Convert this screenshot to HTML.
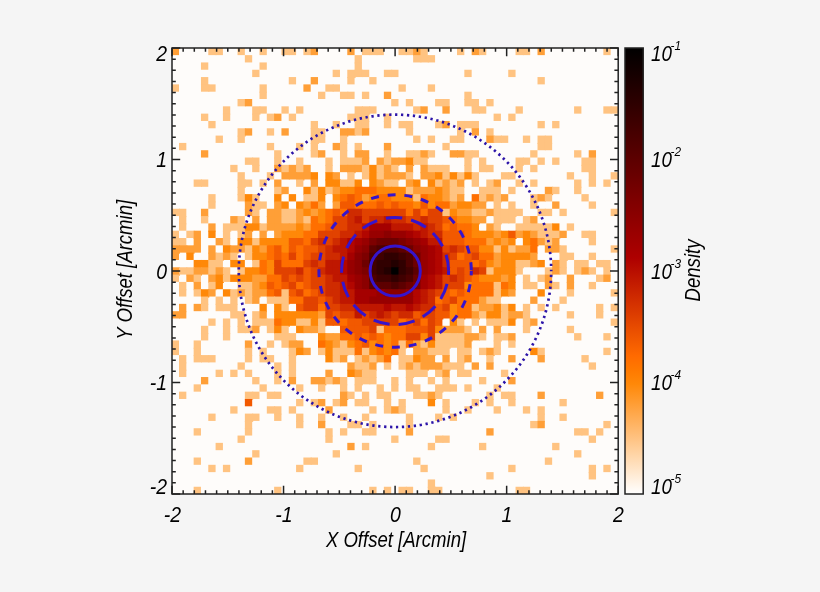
<!DOCTYPE html>
<html><head><meta charset="utf-8"><style>
html,body{margin:0;padding:0;background:#f5f5f5;}
svg{display:block}
text{font-family:"Liberation Sans",Arial,sans-serif;font-style:italic;fill:#000}
</style></head><body>
<svg width="820" height="592" viewBox="0 0 820 592">
<defs><clipPath id="pc"><rect x="172.0" y="48.0" width="446.20000000000005" height="446.0"/></clipPath><linearGradient id="cb" x1="0" y1="0" x2="0" y2="1"><stop offset="0.0000" stop-color="#000000"/><stop offset="0.0314" stop-color="#0c0000"/><stop offset="0.0627" stop-color="#170000"/><stop offset="0.0941" stop-color="#230000"/><stop offset="0.1255" stop-color="#2e0000"/><stop offset="0.1569" stop-color="#3a0000"/><stop offset="0.1882" stop-color="#460000"/><stop offset="0.2196" stop-color="#510000"/><stop offset="0.2510" stop-color="#5d0000"/><stop offset="0.2824" stop-color="#680000"/><stop offset="0.3137" stop-color="#740000"/><stop offset="0.3451" stop-color="#800000"/><stop offset="0.3765" stop-color="#8b0000"/><stop offset="0.4078" stop-color="#970000"/><stop offset="0.4392" stop-color="#a20000"/><stop offset="0.4706" stop-color="#ae0000"/><stop offset="0.5020" stop-color="#b90f00"/><stop offset="0.5333" stop-color="#c51e00"/><stop offset="0.5647" stop-color="#d12d00"/><stop offset="0.5961" stop-color="#dc3c00"/><stop offset="0.6275" stop-color="#e84c00"/><stop offset="0.6588" stop-color="#f35b00"/><stop offset="0.6902" stop-color="#ff6a00"/><stop offset="0.7216" stop-color="#ff7900"/><stop offset="0.7529" stop-color="#ff8808"/><stop offset="0.7843" stop-color="#ff9727"/><stop offset="0.8157" stop-color="#ffa647"/><stop offset="0.8471" stop-color="#ffb566"/><stop offset="0.8784" stop-color="#ffc485"/><stop offset="0.9098" stop-color="#ffd4a5"/><stop offset="0.9412" stop-color="#ffe3c4"/><stop offset="0.9725" stop-color="#fff2e4"/><stop offset="1.0000" stop-color="#ffffff"/></linearGradient></defs>
<rect x="172.0" y="48.0" width="446.20000000000005" height="446.0" fill="#fefcfa"/>
<g clip-path="url(#pc)"><g style="filter:blur(0.35px)"><rect x="171.70" y="47.80" width="7.32" height="7.32" fill="#ff9f37"/><rect x="208.28" y="47.80" width="8.32" height="7.32" fill="#ffc381"/><rect x="215.60" y="47.80" width="7.32" height="7.32" fill="#ffc381"/><rect x="237.54" y="47.80" width="7.32" height="7.32" fill="#ffc381"/><rect x="259.49" y="47.80" width="7.32" height="7.32" fill="#ffc381"/><rect x="281.44" y="47.80" width="8.32" height="7.32" fill="#ffc381"/><rect x="288.76" y="47.80" width="7.32" height="7.32" fill="#ffc381"/><rect x="303.39" y="47.80" width="8.32" height="7.32" fill="#ffc381"/><rect x="310.70" y="47.80" width="7.32" height="7.32" fill="#ff9f37"/><rect x="347.28" y="47.80" width="7.32" height="7.32" fill="#ff9f37"/><rect x="361.92" y="47.80" width="8.32" height="7.32" fill="#ffc381"/><rect x="369.23" y="47.80" width="8.32" height="7.32" fill="#ffc381"/><rect x="376.55" y="47.80" width="7.32" height="7.32" fill="#ffc381"/><rect x="398.50" y="47.80" width="8.32" height="7.32" fill="#ffc381"/><rect x="405.81" y="47.80" width="8.32" height="7.32" fill="#ffc381"/><rect x="413.13" y="47.80" width="8.32" height="8.32" fill="#ff9f37"/><rect x="420.44" y="47.80" width="7.32" height="8.32" fill="#ffc381"/><rect x="457.02" y="47.80" width="7.32" height="7.32" fill="#ffc381"/><rect x="471.66" y="47.80" width="8.32" height="7.32" fill="#ff9f37"/><rect x="478.97" y="47.80" width="7.32" height="7.32" fill="#ffc381"/><rect x="515.55" y="47.80" width="8.32" height="7.32" fill="#ffc381"/><rect x="522.87" y="47.80" width="7.32" height="7.32" fill="#ffc381"/><rect x="537.50" y="47.80" width="7.32" height="7.32" fill="#ff9f37"/><rect x="603.34" y="47.80" width="7.32" height="7.32" fill="#ffc381"/><rect x="244.86" y="55.12" width="7.32" height="7.32" fill="#ffc381"/><rect x="354.60" y="55.12" width="7.32" height="8.32" fill="#ffc381"/><rect x="413.13" y="55.12" width="8.32" height="7.32" fill="#ffc381"/><rect x="420.44" y="55.12" width="8.32" height="7.32" fill="#ffc381"/><rect x="427.76" y="55.12" width="7.32" height="7.32" fill="#ffc381"/><rect x="200.96" y="62.43" width="7.32" height="7.32" fill="#ffc381"/><rect x="259.49" y="62.43" width="7.32" height="7.32" fill="#ffc381"/><rect x="354.60" y="62.43" width="7.32" height="8.32" fill="#ffc381"/><rect x="252.18" y="69.75" width="7.32" height="7.32" fill="#ffc381"/><rect x="332.65" y="69.75" width="7.32" height="7.32" fill="#ffc381"/><rect x="347.28" y="69.75" width="8.32" height="8.32" fill="#ffc381"/><rect x="354.60" y="69.75" width="8.32" height="7.32" fill="#ffc381"/><rect x="361.92" y="69.75" width="7.32" height="7.32" fill="#ffc381"/><rect x="383.86" y="69.75" width="8.32" height="7.32" fill="#ffc381"/><rect x="391.18" y="69.75" width="7.32" height="7.32" fill="#ffc381"/><rect x="464.34" y="69.75" width="7.32" height="7.32" fill="#ffc381"/><rect x="508.24" y="69.75" width="7.32" height="7.32" fill="#ffc381"/><rect x="200.96" y="77.06" width="7.32" height="8.32" fill="#ffc381"/><rect x="288.76" y="77.06" width="7.32" height="7.32" fill="#ffc381"/><rect x="310.70" y="77.06" width="7.32" height="7.32" fill="#ff9f37"/><rect x="347.28" y="77.06" width="7.32" height="7.32" fill="#ffc381"/><rect x="369.23" y="77.06" width="7.32" height="7.32" fill="#ffc381"/><rect x="537.50" y="77.06" width="7.32" height="7.32" fill="#ffc381"/><rect x="171.70" y="84.38" width="7.32" height="7.32" fill="#ffc381"/><rect x="200.96" y="84.38" width="8.32" height="7.32" fill="#ffc381"/><rect x="208.28" y="84.38" width="7.32" height="7.32" fill="#ffc381"/><rect x="259.49" y="84.38" width="7.32" height="8.32" fill="#ffc381"/><rect x="303.39" y="84.38" width="7.32" height="7.32" fill="#ff9f37"/><rect x="325.34" y="84.38" width="8.32" height="7.32" fill="#ffc381"/><rect x="332.65" y="84.38" width="7.32" height="7.32" fill="#ffc381"/><rect x="398.50" y="84.38" width="7.32" height="7.32" fill="#ffc381"/><rect x="427.76" y="84.38" width="7.32" height="7.32" fill="#ffc381"/><rect x="259.49" y="91.70" width="7.32" height="7.32" fill="#ffc381"/><rect x="318.02" y="91.70" width="7.32" height="7.32" fill="#ffc381"/><rect x="339.97" y="91.70" width="8.32" height="7.32" fill="#ffc381"/><rect x="347.28" y="91.70" width="7.32" height="7.32" fill="#ffc381"/><rect x="361.92" y="91.70" width="7.32" height="7.32" fill="#ffc381"/><rect x="383.86" y="91.70" width="7.32" height="7.32" fill="#ff9f37"/><rect x="464.34" y="91.70" width="7.32" height="8.32" fill="#ffc381"/><rect x="237.54" y="99.01" width="8.32" height="7.32" fill="#ffc381"/><rect x="244.86" y="99.01" width="7.32" height="7.32" fill="#ff9f37"/><rect x="391.18" y="99.01" width="7.32" height="7.32" fill="#ffc381"/><rect x="405.81" y="99.01" width="7.32" height="7.32" fill="#ffc381"/><rect x="435.08" y="99.01" width="8.32" height="7.32" fill="#ffc381"/><rect x="442.39" y="99.01" width="7.32" height="8.32" fill="#ffc381"/><rect x="464.34" y="99.01" width="8.32" height="7.32" fill="#ffc381"/><rect x="471.66" y="99.01" width="7.32" height="8.32" fill="#ffc381"/><rect x="486.29" y="99.01" width="7.32" height="7.32" fill="#ffc381"/><rect x="222.91" y="106.33" width="7.32" height="8.32" fill="#ffc381"/><rect x="252.18" y="106.33" width="8.32" height="8.32" fill="#ffc381"/><rect x="259.49" y="106.33" width="7.32" height="7.32" fill="#ffc381"/><rect x="281.44" y="106.33" width="7.32" height="7.32" fill="#ffc381"/><rect x="296.07" y="106.33" width="7.32" height="7.32" fill="#ffc381"/><rect x="354.60" y="106.33" width="8.32" height="8.32" fill="#ffc381"/><rect x="361.92" y="106.33" width="8.32" height="8.32" fill="#ffc381"/><rect x="369.23" y="106.33" width="7.32" height="7.32" fill="#ffc381"/><rect x="413.13" y="106.33" width="8.32" height="7.32" fill="#ffc381"/><rect x="420.44" y="106.33" width="7.32" height="7.32" fill="#ff9f37"/><rect x="442.39" y="106.33" width="7.32" height="7.32" fill="#ff9f37"/><rect x="471.66" y="106.33" width="8.32" height="7.32" fill="#ffc381"/><rect x="478.97" y="106.33" width="7.32" height="7.32" fill="#ffc381"/><rect x="515.55" y="106.33" width="7.32" height="7.32" fill="#ffc381"/><rect x="574.08" y="106.33" width="7.32" height="7.32" fill="#ffc381"/><rect x="603.34" y="106.33" width="8.32" height="7.32" fill="#ffc381"/><rect x="610.66" y="106.33" width="7.32" height="7.32" fill="#ffc381"/><rect x="200.96" y="113.64" width="7.32" height="7.32" fill="#ffc381"/><rect x="222.91" y="113.64" width="7.32" height="7.32" fill="#ffc381"/><rect x="252.18" y="113.64" width="7.32" height="7.32" fill="#ffc381"/><rect x="266.81" y="113.64" width="8.32" height="7.32" fill="#ffc381"/><rect x="274.12" y="113.64" width="7.32" height="7.32" fill="#ff9f37"/><rect x="288.76" y="113.64" width="7.32" height="7.32" fill="#ffc381"/><rect x="347.28" y="113.64" width="8.32" height="7.32" fill="#ffc381"/><rect x="354.60" y="113.64" width="8.32" height="8.32" fill="#ffc381"/><rect x="361.92" y="113.64" width="7.32" height="8.32" fill="#ffc381"/><rect x="383.86" y="113.64" width="7.32" height="8.32" fill="#ffc381"/><rect x="493.60" y="113.64" width="7.32" height="7.32" fill="#ffc381"/><rect x="508.24" y="113.64" width="7.32" height="7.32" fill="#ffc381"/><rect x="208.28" y="120.96" width="7.32" height="7.32" fill="#ffc381"/><rect x="310.70" y="120.96" width="7.32" height="8.32" fill="#ffc381"/><rect x="332.65" y="120.96" width="7.32" height="7.32" fill="#ffc381"/><rect x="354.60" y="120.96" width="8.32" height="8.32" fill="#ffc381"/><rect x="361.92" y="120.96" width="7.32" height="8.32" fill="#ffc381"/><rect x="383.86" y="120.96" width="7.32" height="7.32" fill="#ffc381"/><rect x="398.50" y="120.96" width="8.32" height="7.32" fill="#ffc381"/><rect x="405.81" y="120.96" width="7.32" height="8.32" fill="#ffc381"/><rect x="435.08" y="120.96" width="8.32" height="7.32" fill="#ffc381"/><rect x="442.39" y="120.96" width="7.32" height="7.32" fill="#ff9f37"/><rect x="457.02" y="120.96" width="8.32" height="8.32" fill="#ffc381"/><rect x="464.34" y="120.96" width="8.32" height="7.32" fill="#ffc381"/><rect x="471.66" y="120.96" width="7.32" height="8.32" fill="#ffc381"/><rect x="537.50" y="120.96" width="7.32" height="7.32" fill="#ffc381"/><rect x="552.13" y="120.96" width="7.32" height="7.32" fill="#ffc381"/><rect x="237.54" y="128.28" width="8.32" height="8.32" fill="#ffc381"/><rect x="244.86" y="128.28" width="7.32" height="7.32" fill="#ff9f37"/><rect x="266.81" y="128.28" width="7.32" height="7.32" fill="#ffc381"/><rect x="281.44" y="128.28" width="7.32" height="7.32" fill="#ff9f37"/><rect x="310.70" y="128.28" width="8.32" height="8.32" fill="#ffc381"/><rect x="318.02" y="128.28" width="7.32" height="8.32" fill="#ffc381"/><rect x="339.97" y="128.28" width="8.32" height="8.32" fill="#ff9f37"/><rect x="347.28" y="128.28" width="8.32" height="7.32" fill="#ff9f37"/><rect x="354.60" y="128.28" width="8.32" height="7.32" fill="#ffc381"/><rect x="361.92" y="128.28" width="7.32" height="7.32" fill="#ff9f37"/><rect x="405.81" y="128.28" width="7.32" height="7.32" fill="#ffc381"/><rect x="457.02" y="128.28" width="7.32" height="8.32" fill="#ffc381"/><rect x="471.66" y="128.28" width="7.32" height="7.32" fill="#ff9f37"/><rect x="486.29" y="128.28" width="7.32" height="8.32" fill="#ffc381"/><rect x="215.60" y="135.59" width="7.32" height="7.32" fill="#ffc381"/><rect x="237.54" y="135.59" width="7.32" height="7.32" fill="#ffc381"/><rect x="310.70" y="135.59" width="8.32" height="8.32" fill="#ffc381"/><rect x="318.02" y="135.59" width="7.32" height="7.32" fill="#ffc381"/><rect x="339.97" y="135.59" width="7.32" height="8.32" fill="#ffc381"/><rect x="413.13" y="135.59" width="7.32" height="7.32" fill="#ffc381"/><rect x="427.76" y="135.59" width="7.32" height="7.32" fill="#ffc381"/><rect x="449.71" y="135.59" width="8.32" height="7.32" fill="#ffc381"/><rect x="457.02" y="135.59" width="7.32" height="7.32" fill="#ffc381"/><rect x="486.29" y="135.59" width="8.32" height="7.32" fill="#ff9f37"/><rect x="493.60" y="135.59" width="8.32" height="7.32" fill="#ffc381"/><rect x="500.92" y="135.59" width="7.32" height="7.32" fill="#ffc381"/><rect x="522.87" y="135.59" width="7.32" height="7.32" fill="#ffc381"/><rect x="537.50" y="135.59" width="8.32" height="8.32" fill="#ffc381"/><rect x="544.82" y="135.59" width="7.32" height="8.32" fill="#ffc381"/><rect x="179.02" y="142.91" width="7.32" height="7.32" fill="#ffc381"/><rect x="266.81" y="142.91" width="7.32" height="7.32" fill="#ffc381"/><rect x="296.07" y="142.91" width="7.32" height="7.32" fill="#ffc381"/><rect x="310.70" y="142.91" width="7.32" height="8.32" fill="#ffc381"/><rect x="332.65" y="142.91" width="8.32" height="7.32" fill="#ff9f37"/><rect x="339.97" y="142.91" width="7.32" height="8.32" fill="#ffc381"/><rect x="354.60" y="142.91" width="7.32" height="8.32" fill="#ffc381"/><rect x="383.86" y="142.91" width="7.32" height="8.32" fill="#ff9f37"/><rect x="442.39" y="142.91" width="7.32" height="7.32" fill="#ffc381"/><rect x="537.50" y="142.91" width="8.32" height="7.32" fill="#ffc381"/><rect x="544.82" y="142.91" width="7.32" height="7.32" fill="#ffc381"/><rect x="200.96" y="150.22" width="7.32" height="7.32" fill="#ff9f37"/><rect x="274.12" y="150.22" width="7.32" height="8.32" fill="#ffc381"/><rect x="310.70" y="150.22" width="8.32" height="7.32" fill="#ffc381"/><rect x="318.02" y="150.22" width="7.32" height="7.32" fill="#ff9f37"/><rect x="339.97" y="150.22" width="7.32" height="8.32" fill="#ffc381"/><rect x="354.60" y="150.22" width="8.32" height="8.32" fill="#ff9f37"/><rect x="361.92" y="150.22" width="7.32" height="8.32" fill="#ff9f37"/><rect x="383.86" y="150.22" width="7.32" height="8.32" fill="#ffc381"/><rect x="405.81" y="150.22" width="8.32" height="8.32" fill="#ffc381"/><rect x="413.13" y="150.22" width="8.32" height="8.32" fill="#ffc381"/><rect x="420.44" y="150.22" width="8.32" height="8.32" fill="#ff9f37"/><rect x="427.76" y="150.22" width="7.32" height="7.32" fill="#ffc381"/><rect x="449.71" y="150.22" width="8.32" height="7.32" fill="#ff9f37"/><rect x="457.02" y="150.22" width="8.32" height="7.32" fill="#ff9f37"/><rect x="464.34" y="150.22" width="8.32" height="8.32" fill="#ffc381"/><rect x="471.66" y="150.22" width="7.32" height="7.32" fill="#ffc381"/><rect x="530.18" y="150.22" width="7.32" height="7.32" fill="#ffc381"/><rect x="574.08" y="150.22" width="7.32" height="7.32" fill="#ffc381"/><rect x="588.71" y="150.22" width="7.32" height="8.32" fill="#ff9f37"/><rect x="244.86" y="157.54" width="8.32" height="7.32" fill="#ffc381"/><rect x="252.18" y="157.54" width="7.32" height="8.32" fill="#ffc381"/><rect x="274.12" y="157.54" width="7.32" height="8.32" fill="#ffc381"/><rect x="296.07" y="157.54" width="7.32" height="8.32" fill="#ffc381"/><rect x="325.34" y="157.54" width="7.32" height="8.32" fill="#ffc381"/><rect x="339.97" y="157.54" width="8.32" height="8.32" fill="#ffc381"/><rect x="347.28" y="157.54" width="8.32" height="8.32" fill="#ffc381"/><rect x="354.60" y="157.54" width="8.32" height="8.32" fill="#ffc381"/><rect x="361.92" y="157.54" width="7.32" height="8.32" fill="#ff9f37"/><rect x="376.55" y="157.54" width="8.32" height="8.32" fill="#ff9f37"/><rect x="383.86" y="157.54" width="8.32" height="8.32" fill="#ffc381"/><rect x="391.18" y="157.54" width="8.32" height="8.32" fill="#ff9f37"/><rect x="398.50" y="157.54" width="8.32" height="7.32" fill="#ff9f37"/><rect x="405.81" y="157.54" width="8.32" height="8.32" fill="#ff8808"/><rect x="413.13" y="157.54" width="8.32" height="7.32" fill="#ffc381"/><rect x="420.44" y="157.54" width="7.32" height="8.32" fill="#ffc381"/><rect x="464.34" y="157.54" width="7.32" height="8.32" fill="#ffc381"/><rect x="478.97" y="157.54" width="7.32" height="8.32" fill="#ffc381"/><rect x="515.55" y="157.54" width="8.32" height="8.32" fill="#ffc381"/><rect x="522.87" y="157.54" width="7.32" height="7.32" fill="#ffc381"/><rect x="537.50" y="157.54" width="7.32" height="7.32" fill="#ffc381"/><rect x="552.13" y="157.54" width="7.32" height="7.32" fill="#ffc381"/><rect x="581.40" y="157.54" width="8.32" height="8.32" fill="#ffc381"/><rect x="588.71" y="157.54" width="7.32" height="8.32" fill="#ffc381"/><rect x="230.23" y="164.86" width="7.32" height="7.32" fill="#ffc381"/><rect x="252.18" y="164.86" width="7.32" height="7.32" fill="#ffc381"/><rect x="274.12" y="164.86" width="8.32" height="7.32" fill="#ff9f37"/><rect x="281.44" y="164.86" width="8.32" height="8.32" fill="#ffc381"/><rect x="288.76" y="164.86" width="8.32" height="8.32" fill="#ff9f37"/><rect x="296.07" y="164.86" width="8.32" height="8.32" fill="#ffc381"/><rect x="303.39" y="164.86" width="7.32" height="8.32" fill="#ff9f37"/><rect x="325.34" y="164.86" width="7.32" height="8.32" fill="#ffc381"/><rect x="339.97" y="164.86" width="8.32" height="7.32" fill="#ff9f37"/><rect x="347.28" y="164.86" width="8.32" height="8.32" fill="#ff9f37"/><rect x="354.60" y="164.86" width="8.32" height="7.32" fill="#ff9f37"/><rect x="361.92" y="164.86" width="8.32" height="8.32" fill="#ffc381"/><rect x="369.23" y="164.86" width="8.32" height="8.32" fill="#ff8808"/><rect x="376.55" y="164.86" width="8.32" height="8.32" fill="#ffc381"/><rect x="383.86" y="164.86" width="8.32" height="8.32" fill="#ff9f37"/><rect x="391.18" y="164.86" width="7.32" height="8.32" fill="#ffc381"/><rect x="405.81" y="164.86" width="7.32" height="8.32" fill="#ff9f37"/><rect x="420.44" y="164.86" width="8.32" height="8.32" fill="#ff9f37"/><rect x="427.76" y="164.86" width="8.32" height="8.32" fill="#ffc381"/><rect x="435.08" y="164.86" width="8.32" height="8.32" fill="#ffc381"/><rect x="442.39" y="164.86" width="7.32" height="8.32" fill="#ffc381"/><rect x="464.34" y="164.86" width="7.32" height="8.32" fill="#ffc381"/><rect x="478.97" y="164.86" width="8.32" height="7.32" fill="#ffc381"/><rect x="486.29" y="164.86" width="7.32" height="7.32" fill="#ffc381"/><rect x="515.55" y="164.86" width="7.32" height="7.32" fill="#ffc381"/><rect x="530.18" y="164.86" width="7.32" height="7.32" fill="#ffc381"/><rect x="581.40" y="164.86" width="8.32" height="7.32" fill="#ffc381"/><rect x="588.71" y="164.86" width="7.32" height="8.32" fill="#ffc381"/><rect x="237.54" y="172.17" width="7.32" height="8.32" fill="#ffc381"/><rect x="266.81" y="172.17" width="7.32" height="7.32" fill="#ffc381"/><rect x="281.44" y="172.17" width="8.32" height="7.32" fill="#ff9f37"/><rect x="288.76" y="172.17" width="8.32" height="7.32" fill="#ff9f37"/><rect x="296.07" y="172.17" width="8.32" height="8.32" fill="#ff9f37"/><rect x="303.39" y="172.17" width="8.32" height="7.32" fill="#ff9f37"/><rect x="310.70" y="172.17" width="7.32" height="8.32" fill="#ff8808"/><rect x="325.34" y="172.17" width="8.32" height="8.32" fill="#ff8808"/><rect x="332.65" y="172.17" width="7.32" height="8.32" fill="#ff9f37"/><rect x="347.28" y="172.17" width="7.32" height="8.32" fill="#ffc381"/><rect x="361.92" y="172.17" width="8.32" height="7.32" fill="#ffc381"/><rect x="369.23" y="172.17" width="8.32" height="8.32" fill="#ff8808"/><rect x="376.55" y="172.17" width="8.32" height="8.32" fill="#ffc381"/><rect x="383.86" y="172.17" width="8.32" height="8.32" fill="#ff9f37"/><rect x="391.18" y="172.17" width="8.32" height="8.32" fill="#ff9f37"/><rect x="398.50" y="172.17" width="8.32" height="7.32" fill="#ff9f37"/><rect x="405.81" y="172.17" width="7.32" height="8.32" fill="#ffc381"/><rect x="420.44" y="172.17" width="8.32" height="7.32" fill="#ff9f37"/><rect x="427.76" y="172.17" width="8.32" height="8.32" fill="#ff9f37"/><rect x="435.08" y="172.17" width="8.32" height="8.32" fill="#ff8808"/><rect x="442.39" y="172.17" width="8.32" height="8.32" fill="#ffc381"/><rect x="449.71" y="172.17" width="8.32" height="8.32" fill="#ff8808"/><rect x="457.02" y="172.17" width="8.32" height="8.32" fill="#ffc381"/><rect x="464.34" y="172.17" width="8.32" height="7.32" fill="#ff8808"/><rect x="471.66" y="172.17" width="7.32" height="8.32" fill="#ffc381"/><rect x="500.92" y="172.17" width="8.32" height="7.32" fill="#ffc381"/><rect x="508.24" y="172.17" width="7.32" height="7.32" fill="#ffc381"/><rect x="566.76" y="172.17" width="7.32" height="7.32" fill="#ffc381"/><rect x="588.71" y="172.17" width="7.32" height="8.32" fill="#ffc381"/><rect x="610.66" y="172.17" width="7.32" height="7.32" fill="#ffc381"/><rect x="193.65" y="179.49" width="8.32" height="7.32" fill="#ffc381"/><rect x="200.96" y="179.49" width="7.32" height="7.32" fill="#ffc381"/><rect x="237.54" y="179.49" width="8.32" height="8.32" fill="#ffc381"/><rect x="244.86" y="179.49" width="7.32" height="7.32" fill="#ffc381"/><rect x="259.49" y="179.49" width="7.32" height="7.32" fill="#ffc381"/><rect x="274.12" y="179.49" width="7.32" height="8.32" fill="#ff9f37"/><rect x="296.07" y="179.49" width="7.32" height="7.32" fill="#ffc381"/><rect x="310.70" y="179.49" width="7.32" height="8.32" fill="#ff9f37"/><rect x="325.34" y="179.49" width="8.32" height="8.32" fill="#ff8808"/><rect x="332.65" y="179.49" width="8.32" height="8.32" fill="#ff8808"/><rect x="339.97" y="179.49" width="8.32" height="8.32" fill="#ffc381"/><rect x="347.28" y="179.49" width="8.32" height="8.32" fill="#ffc381"/><rect x="354.60" y="179.49" width="7.32" height="8.32" fill="#ff8808"/><rect x="369.23" y="179.49" width="8.32" height="8.32" fill="#ff8808"/><rect x="376.55" y="179.49" width="8.32" height="8.32" fill="#ff9f37"/><rect x="383.86" y="179.49" width="8.32" height="8.32" fill="#ffc381"/><rect x="391.18" y="179.49" width="7.32" height="8.32" fill="#ffc381"/><rect x="405.81" y="179.49" width="8.32" height="8.32" fill="#ff9f37"/><rect x="413.13" y="179.49" width="7.32" height="8.32" fill="#ff8808"/><rect x="427.76" y="179.49" width="8.32" height="8.32" fill="#ff8808"/><rect x="435.08" y="179.49" width="8.32" height="8.32" fill="#ffc381"/><rect x="442.39" y="179.49" width="8.32" height="8.32" fill="#ff9f37"/><rect x="449.71" y="179.49" width="8.32" height="8.32" fill="#ffc381"/><rect x="457.02" y="179.49" width="7.32" height="8.32" fill="#ff9f37"/><rect x="471.66" y="179.49" width="7.32" height="7.32" fill="#ffc381"/><rect x="486.29" y="179.49" width="8.32" height="8.32" fill="#ffc381"/><rect x="493.60" y="179.49" width="7.32" height="8.32" fill="#ff9f37"/><rect x="515.55" y="179.49" width="7.32" height="7.32" fill="#ffc381"/><rect x="530.18" y="179.49" width="7.32" height="7.32" fill="#ffc381"/><rect x="574.08" y="179.49" width="7.32" height="8.32" fill="#ffc381"/><rect x="588.71" y="179.49" width="7.32" height="7.32" fill="#ffc381"/><rect x="603.34" y="179.49" width="7.32" height="7.32" fill="#ffc381"/><rect x="237.54" y="186.80" width="7.32" height="8.32" fill="#ffc381"/><rect x="274.12" y="186.80" width="8.32" height="8.32" fill="#ffc381"/><rect x="281.44" y="186.80" width="7.32" height="7.32" fill="#ff9f37"/><rect x="303.39" y="186.80" width="8.32" height="8.32" fill="#ff8808"/><rect x="310.70" y="186.80" width="8.32" height="8.32" fill="#ffc381"/><rect x="318.02" y="186.80" width="8.32" height="8.32" fill="#ff8808"/><rect x="325.34" y="186.80" width="8.32" height="7.32" fill="#ffc381"/><rect x="332.65" y="186.80" width="8.32" height="8.32" fill="#ff9f37"/><rect x="339.97" y="186.80" width="8.32" height="8.32" fill="#ff8808"/><rect x="347.28" y="186.80" width="8.32" height="8.32" fill="#ff8808"/><rect x="354.60" y="186.80" width="8.32" height="8.32" fill="#ff6f00"/><rect x="361.92" y="186.80" width="8.32" height="8.32" fill="#ff6f00"/><rect x="369.23" y="186.80" width="8.32" height="8.32" fill="#ff6f00"/><rect x="376.55" y="186.80" width="8.32" height="8.32" fill="#ff8808"/><rect x="383.86" y="186.80" width="8.32" height="8.32" fill="#ff8808"/><rect x="391.18" y="186.80" width="8.32" height="8.32" fill="#ff8808"/><rect x="398.50" y="186.80" width="8.32" height="8.32" fill="#ff8808"/><rect x="405.81" y="186.80" width="8.32" height="8.32" fill="#ffc381"/><rect x="413.13" y="186.80" width="8.32" height="8.32" fill="#ff9f37"/><rect x="420.44" y="186.80" width="8.32" height="8.32" fill="#ff9f37"/><rect x="427.76" y="186.80" width="8.32" height="8.32" fill="#ff9f37"/><rect x="435.08" y="186.80" width="8.32" height="8.32" fill="#ff8808"/><rect x="442.39" y="186.80" width="8.32" height="8.32" fill="#ff9f37"/><rect x="449.71" y="186.80" width="8.32" height="8.32" fill="#ffc381"/><rect x="457.02" y="186.80" width="7.32" height="8.32" fill="#ffc381"/><rect x="478.97" y="186.80" width="8.32" height="8.32" fill="#ffc381"/><rect x="486.29" y="186.80" width="8.32" height="8.32" fill="#ffc381"/><rect x="493.60" y="186.80" width="7.32" height="8.32" fill="#ffc381"/><rect x="508.24" y="186.80" width="7.32" height="7.32" fill="#ffc381"/><rect x="544.82" y="186.80" width="8.32" height="8.32" fill="#ff9f37"/><rect x="552.13" y="186.80" width="7.32" height="7.32" fill="#ffc381"/><rect x="574.08" y="186.80" width="7.32" height="7.32" fill="#ffc381"/><rect x="208.28" y="194.12" width="7.32" height="8.32" fill="#ffc381"/><rect x="237.54" y="194.12" width="8.32" height="7.32" fill="#ffc381"/><rect x="244.86" y="194.12" width="8.32" height="8.32" fill="#ff8808"/><rect x="252.18" y="194.12" width="7.32" height="8.32" fill="#ffc381"/><rect x="274.12" y="194.12" width="7.32" height="8.32" fill="#ff8808"/><rect x="288.76" y="194.12" width="7.32" height="7.32" fill="#ff8808"/><rect x="303.39" y="194.12" width="8.32" height="8.32" fill="#ffc381"/><rect x="310.70" y="194.12" width="8.32" height="8.32" fill="#ffc381"/><rect x="318.02" y="194.12" width="7.32" height="8.32" fill="#ff8808"/><rect x="332.65" y="194.12" width="8.32" height="8.32" fill="#ff8808"/><rect x="339.97" y="194.12" width="8.32" height="8.32" fill="#ff6f00"/><rect x="347.28" y="194.12" width="8.32" height="8.32" fill="#f25900"/><rect x="354.60" y="194.12" width="8.32" height="8.32" fill="#ff6f00"/><rect x="361.92" y="194.12" width="8.32" height="8.32" fill="#ff9f37"/><rect x="369.23" y="194.12" width="8.32" height="8.32" fill="#ff8808"/><rect x="376.55" y="194.12" width="8.32" height="8.32" fill="#ff6f00"/><rect x="383.86" y="194.12" width="8.32" height="8.32" fill="#ff6f00"/><rect x="391.18" y="194.12" width="8.32" height="8.32" fill="#ff8808"/><rect x="398.50" y="194.12" width="8.32" height="8.32" fill="#ff8808"/><rect x="405.81" y="194.12" width="8.32" height="8.32" fill="#ff8808"/><rect x="413.13" y="194.12" width="8.32" height="8.32" fill="#ffc381"/><rect x="420.44" y="194.12" width="8.32" height="8.32" fill="#ff6f00"/><rect x="427.76" y="194.12" width="8.32" height="8.32" fill="#ff8808"/><rect x="435.08" y="194.12" width="8.32" height="8.32" fill="#ff8808"/><rect x="442.39" y="194.12" width="8.32" height="8.32" fill="#ff9f37"/><rect x="449.71" y="194.12" width="8.32" height="8.32" fill="#ffc381"/><rect x="457.02" y="194.12" width="7.32" height="8.32" fill="#ff9f37"/><rect x="471.66" y="194.12" width="8.32" height="8.32" fill="#ff6f00"/><rect x="478.97" y="194.12" width="8.32" height="8.32" fill="#ffc381"/><rect x="486.29" y="194.12" width="8.32" height="7.32" fill="#ff9f37"/><rect x="493.60" y="194.12" width="8.32" height="8.32" fill="#ffc381"/><rect x="500.92" y="194.12" width="7.32" height="7.32" fill="#ff9f37"/><rect x="530.18" y="194.12" width="8.32" height="8.32" fill="#ffc381"/><rect x="537.50" y="194.12" width="8.32" height="7.32" fill="#ff9f37"/><rect x="544.82" y="194.12" width="7.32" height="7.32" fill="#ffc381"/><rect x="581.40" y="194.12" width="7.32" height="7.32" fill="#ffc381"/><rect x="208.28" y="201.44" width="7.32" height="7.32" fill="#ffc381"/><rect x="244.86" y="201.44" width="8.32" height="8.32" fill="#ff9f37"/><rect x="252.18" y="201.44" width="8.32" height="8.32" fill="#ffc381"/><rect x="259.49" y="201.44" width="7.32" height="7.32" fill="#ffc381"/><rect x="274.12" y="201.44" width="8.32" height="8.32" fill="#ff9f37"/><rect x="281.44" y="201.44" width="7.32" height="8.32" fill="#ff8808"/><rect x="296.07" y="201.44" width="8.32" height="8.32" fill="#ff8808"/><rect x="303.39" y="201.44" width="8.32" height="8.32" fill="#ff9f37"/><rect x="310.70" y="201.44" width="8.32" height="8.32" fill="#ff6f00"/><rect x="318.02" y="201.44" width="7.32" height="8.32" fill="#ff9f37"/><rect x="332.65" y="201.44" width="8.32" height="8.32" fill="#ff9f37"/><rect x="339.97" y="201.44" width="8.32" height="8.32" fill="#f25900"/><rect x="347.28" y="201.44" width="8.32" height="8.32" fill="#f25900"/><rect x="354.60" y="201.44" width="8.32" height="8.32" fill="#ff6f00"/><rect x="361.92" y="201.44" width="8.32" height="8.32" fill="#ff6f00"/><rect x="369.23" y="201.44" width="8.32" height="8.32" fill="#ff6f00"/><rect x="376.55" y="201.44" width="8.32" height="8.32" fill="#f25900"/><rect x="383.86" y="201.44" width="8.32" height="8.32" fill="#ff6f00"/><rect x="391.18" y="201.44" width="8.32" height="8.32" fill="#f25900"/><rect x="398.50" y="201.44" width="8.32" height="8.32" fill="#ff6f00"/><rect x="405.81" y="201.44" width="8.32" height="8.32" fill="#ff6f00"/><rect x="413.13" y="201.44" width="8.32" height="8.32" fill="#ff8808"/><rect x="420.44" y="201.44" width="8.32" height="8.32" fill="#f25900"/><rect x="427.76" y="201.44" width="8.32" height="8.32" fill="#ff8808"/><rect x="435.08" y="201.44" width="8.32" height="8.32" fill="#ff6f00"/><rect x="442.39" y="201.44" width="8.32" height="8.32" fill="#ff6f00"/><rect x="449.71" y="201.44" width="8.32" height="8.32" fill="#ff9f37"/><rect x="457.02" y="201.44" width="8.32" height="8.32" fill="#ff8808"/><rect x="464.34" y="201.44" width="8.32" height="8.32" fill="#ff8808"/><rect x="471.66" y="201.44" width="8.32" height="8.32" fill="#ff9f37"/><rect x="478.97" y="201.44" width="7.32" height="8.32" fill="#ff9f37"/><rect x="493.60" y="201.44" width="7.32" height="8.32" fill="#ffc381"/><rect x="508.24" y="201.44" width="7.32" height="8.32" fill="#ffc381"/><rect x="530.18" y="201.44" width="7.32" height="7.32" fill="#ffc381"/><rect x="552.13" y="201.44" width="7.32" height="7.32" fill="#ff9f37"/><rect x="588.71" y="201.44" width="7.32" height="7.32" fill="#ffc381"/><rect x="171.70" y="208.75" width="8.32" height="7.32" fill="#ffc381"/><rect x="179.02" y="208.75" width="7.32" height="8.32" fill="#ffc381"/><rect x="200.96" y="208.75" width="7.32" height="8.32" fill="#ff9f37"/><rect x="244.86" y="208.75" width="8.32" height="7.32" fill="#ff9f37"/><rect x="252.18" y="208.75" width="7.32" height="8.32" fill="#ffc381"/><rect x="266.81" y="208.75" width="8.32" height="8.32" fill="#ff9f37"/><rect x="274.12" y="208.75" width="8.32" height="8.32" fill="#ff9f37"/><rect x="281.44" y="208.75" width="8.32" height="8.32" fill="#ffc381"/><rect x="288.76" y="208.75" width="8.32" height="8.32" fill="#ffc381"/><rect x="296.07" y="208.75" width="8.32" height="8.32" fill="#ff9f37"/><rect x="303.39" y="208.75" width="8.32" height="8.32" fill="#ff8808"/><rect x="310.70" y="208.75" width="8.32" height="8.32" fill="#ff9f37"/><rect x="318.02" y="208.75" width="8.32" height="8.32" fill="#ff8808"/><rect x="325.34" y="208.75" width="8.32" height="8.32" fill="#ff6f00"/><rect x="332.65" y="208.75" width="8.32" height="8.32" fill="#f25900"/><rect x="339.97" y="208.75" width="8.32" height="8.32" fill="#ff6f00"/><rect x="347.28" y="208.75" width="8.32" height="8.32" fill="#cf2b00"/><rect x="354.60" y="208.75" width="8.32" height="8.32" fill="#cf2b00"/><rect x="361.92" y="208.75" width="8.32" height="8.32" fill="#e14200"/><rect x="369.23" y="208.75" width="8.32" height="8.32" fill="#e14200"/><rect x="376.55" y="208.75" width="8.32" height="8.32" fill="#e14200"/><rect x="383.86" y="208.75" width="8.32" height="8.32" fill="#e14200"/><rect x="391.18" y="208.75" width="8.32" height="8.32" fill="#e14200"/><rect x="398.50" y="208.75" width="8.32" height="8.32" fill="#e14200"/><rect x="405.81" y="208.75" width="8.32" height="8.32" fill="#ff6f00"/><rect x="413.13" y="208.75" width="8.32" height="8.32" fill="#e14200"/><rect x="420.44" y="208.75" width="8.32" height="8.32" fill="#ff6f00"/><rect x="427.76" y="208.75" width="8.32" height="8.32" fill="#e14200"/><rect x="435.08" y="208.75" width="8.32" height="8.32" fill="#e14200"/><rect x="442.39" y="208.75" width="8.32" height="8.32" fill="#ffc381"/><rect x="449.71" y="208.75" width="8.32" height="8.32" fill="#ff8808"/><rect x="457.02" y="208.75" width="8.32" height="8.32" fill="#ff9f37"/><rect x="464.34" y="208.75" width="8.32" height="8.32" fill="#ff9f37"/><rect x="471.66" y="208.75" width="8.32" height="8.32" fill="#ffc381"/><rect x="478.97" y="208.75" width="8.32" height="8.32" fill="#ffc381"/><rect x="486.29" y="208.75" width="8.32" height="7.32" fill="#ff9f37"/><rect x="493.60" y="208.75" width="8.32" height="8.32" fill="#ffc381"/><rect x="500.92" y="208.75" width="8.32" height="8.32" fill="#ffc381"/><rect x="508.24" y="208.75" width="8.32" height="8.32" fill="#ffc381"/><rect x="515.55" y="208.75" width="7.32" height="7.32" fill="#ffc381"/><rect x="537.50" y="208.75" width="8.32" height="7.32" fill="#ffc381"/><rect x="544.82" y="208.75" width="7.32" height="7.32" fill="#ffc381"/><rect x="559.45" y="208.75" width="7.32" height="7.32" fill="#ffc381"/><rect x="610.66" y="208.75" width="7.32" height="7.32" fill="#ffc381"/><rect x="179.02" y="216.07" width="7.32" height="8.32" fill="#ffc381"/><rect x="200.96" y="216.07" width="7.32" height="7.32" fill="#ffc381"/><rect x="230.23" y="216.07" width="8.32" height="8.32" fill="#ff9f37"/><rect x="237.54" y="216.07" width="7.32" height="8.32" fill="#ffc381"/><rect x="252.18" y="216.07" width="7.32" height="8.32" fill="#ff9f37"/><rect x="266.81" y="216.07" width="8.32" height="8.32" fill="#ff9f37"/><rect x="274.12" y="216.07" width="8.32" height="8.32" fill="#ff9f37"/><rect x="281.44" y="216.07" width="8.32" height="8.32" fill="#ffc381"/><rect x="288.76" y="216.07" width="8.32" height="8.32" fill="#ffc381"/><rect x="296.07" y="216.07" width="8.32" height="8.32" fill="#ff9f37"/><rect x="303.39" y="216.07" width="8.32" height="8.32" fill="#ffc381"/><rect x="310.70" y="216.07" width="8.32" height="8.32" fill="#ff6f00"/><rect x="318.02" y="216.07" width="8.32" height="8.32" fill="#ff8808"/><rect x="325.34" y="216.07" width="8.32" height="8.32" fill="#ff6f00"/><rect x="332.65" y="216.07" width="8.32" height="8.32" fill="#e14200"/><rect x="339.97" y="216.07" width="8.32" height="8.32" fill="#e14200"/><rect x="347.28" y="216.07" width="8.32" height="8.32" fill="#cf2b00"/><rect x="354.60" y="216.07" width="8.32" height="8.32" fill="#bf1700"/><rect x="361.92" y="216.07" width="8.32" height="8.32" fill="#e14200"/><rect x="369.23" y="216.07" width="8.32" height="8.32" fill="#cf2b00"/><rect x="376.55" y="216.07" width="8.32" height="8.32" fill="#cf2b00"/><rect x="383.86" y="216.07" width="8.32" height="8.32" fill="#bf1700"/><rect x="391.18" y="216.07" width="8.32" height="8.32" fill="#cf2b00"/><rect x="398.50" y="216.07" width="8.32" height="8.32" fill="#cf2b00"/><rect x="405.81" y="216.07" width="8.32" height="8.32" fill="#e14200"/><rect x="413.13" y="216.07" width="8.32" height="8.32" fill="#e14200"/><rect x="420.44" y="216.07" width="8.32" height="8.32" fill="#cf2b00"/><rect x="427.76" y="216.07" width="8.32" height="8.32" fill="#e14200"/><rect x="435.08" y="216.07" width="8.32" height="8.32" fill="#e14200"/><rect x="442.39" y="216.07" width="8.32" height="8.32" fill="#f25900"/><rect x="449.71" y="216.07" width="8.32" height="8.32" fill="#ff6f00"/><rect x="457.02" y="216.07" width="8.32" height="8.32" fill="#ff8808"/><rect x="464.34" y="216.07" width="8.32" height="8.32" fill="#ff8808"/><rect x="471.66" y="216.07" width="8.32" height="8.32" fill="#ff9f37"/><rect x="478.97" y="216.07" width="7.32" height="7.32" fill="#ff9f37"/><rect x="493.60" y="216.07" width="8.32" height="8.32" fill="#ffc381"/><rect x="500.92" y="216.07" width="8.32" height="7.32" fill="#ffc381"/><rect x="508.24" y="216.07" width="7.32" height="7.32" fill="#ffc381"/><rect x="522.87" y="216.07" width="8.32" height="8.32" fill="#ffc381"/><rect x="530.18" y="216.07" width="7.32" height="8.32" fill="#ff9f37"/><rect x="179.02" y="223.38" width="7.32" height="7.32" fill="#ffc381"/><rect x="208.28" y="223.38" width="7.32" height="8.32" fill="#ff9f37"/><rect x="222.91" y="223.38" width="8.32" height="8.32" fill="#ffc381"/><rect x="230.23" y="223.38" width="8.32" height="7.32" fill="#ffc381"/><rect x="237.54" y="223.38" width="8.32" height="8.32" fill="#ffc381"/><rect x="244.86" y="223.38" width="8.32" height="8.32" fill="#ff8808"/><rect x="252.18" y="223.38" width="8.32" height="7.32" fill="#ff8808"/><rect x="259.49" y="223.38" width="8.32" height="8.32" fill="#ffc381"/><rect x="266.81" y="223.38" width="8.32" height="7.32" fill="#ff9f37"/><rect x="274.12" y="223.38" width="8.32" height="8.32" fill="#ff9f37"/><rect x="281.44" y="223.38" width="8.32" height="8.32" fill="#ff9f37"/><rect x="288.76" y="223.38" width="8.32" height="8.32" fill="#ff9f37"/><rect x="296.07" y="223.38" width="8.32" height="8.32" fill="#ff8808"/><rect x="303.39" y="223.38" width="8.32" height="8.32" fill="#ff9f37"/><rect x="310.70" y="223.38" width="8.32" height="8.32" fill="#ff6f00"/><rect x="318.02" y="223.38" width="8.32" height="8.32" fill="#ff6f00"/><rect x="325.34" y="223.38" width="8.32" height="8.32" fill="#f25900"/><rect x="332.65" y="223.38" width="8.32" height="8.32" fill="#e14200"/><rect x="339.97" y="223.38" width="8.32" height="8.32" fill="#e14200"/><rect x="347.28" y="223.38" width="8.32" height="8.32" fill="#cf2b00"/><rect x="354.60" y="223.38" width="8.32" height="8.32" fill="#cf2b00"/><rect x="361.92" y="223.38" width="8.32" height="8.32" fill="#bf1700"/><rect x="369.23" y="223.38" width="8.32" height="8.32" fill="#a50000"/><rect x="376.55" y="223.38" width="8.32" height="8.32" fill="#a50000"/><rect x="383.86" y="223.38" width="8.32" height="8.32" fill="#a50000"/><rect x="391.18" y="223.38" width="8.32" height="8.32" fill="#bf1700"/><rect x="398.50" y="223.38" width="8.32" height="8.32" fill="#bf1700"/><rect x="405.81" y="223.38" width="8.32" height="8.32" fill="#bf1700"/><rect x="413.13" y="223.38" width="8.32" height="8.32" fill="#cf2b00"/><rect x="420.44" y="223.38" width="8.32" height="8.32" fill="#bf1700"/><rect x="427.76" y="223.38" width="8.32" height="8.32" fill="#cf2b00"/><rect x="435.08" y="223.38" width="8.32" height="8.32" fill="#e14200"/><rect x="442.39" y="223.38" width="8.32" height="8.32" fill="#ff6f00"/><rect x="449.71" y="223.38" width="8.32" height="8.32" fill="#f25900"/><rect x="457.02" y="223.38" width="8.32" height="8.32" fill="#ff6f00"/><rect x="464.34" y="223.38" width="8.32" height="8.32" fill="#ff6f00"/><rect x="471.66" y="223.38" width="7.32" height="8.32" fill="#ff8808"/><rect x="486.29" y="223.38" width="8.32" height="8.32" fill="#ff9f37"/><rect x="493.60" y="223.38" width="7.32" height="8.32" fill="#ffc381"/><rect x="515.55" y="223.38" width="8.32" height="8.32" fill="#ffc381"/><rect x="522.87" y="223.38" width="8.32" height="8.32" fill="#ffc381"/><rect x="530.18" y="223.38" width="8.32" height="8.32" fill="#ffc381"/><rect x="537.50" y="223.38" width="8.32" height="8.32" fill="#ffc381"/><rect x="544.82" y="223.38" width="8.32" height="8.32" fill="#ffc381"/><rect x="552.13" y="223.38" width="7.32" height="8.32" fill="#ff8808"/><rect x="566.76" y="223.38" width="7.32" height="7.32" fill="#ffc381"/><rect x="171.70" y="230.70" width="7.32" height="8.32" fill="#ffc381"/><rect x="186.33" y="230.70" width="8.32" height="7.32" fill="#ffc381"/><rect x="193.65" y="230.70" width="7.32" height="8.32" fill="#ff9f37"/><rect x="208.28" y="230.70" width="7.32" height="7.32" fill="#ff8808"/><rect x="222.91" y="230.70" width="7.32" height="8.32" fill="#ffc381"/><rect x="237.54" y="230.70" width="8.32" height="8.32" fill="#ffc381"/><rect x="244.86" y="230.70" width="7.32" height="8.32" fill="#ff9f37"/><rect x="259.49" y="230.70" width="7.32" height="8.32" fill="#ff9f37"/><rect x="274.12" y="230.70" width="8.32" height="8.32" fill="#ff9f37"/><rect x="281.44" y="230.70" width="8.32" height="8.32" fill="#ff8808"/><rect x="288.76" y="230.70" width="8.32" height="8.32" fill="#ff8808"/><rect x="296.07" y="230.70" width="8.32" height="8.32" fill="#ff8808"/><rect x="303.39" y="230.70" width="8.32" height="8.32" fill="#ff6f00"/><rect x="310.70" y="230.70" width="8.32" height="8.32" fill="#ff6f00"/><rect x="318.02" y="230.70" width="8.32" height="8.32" fill="#e14200"/><rect x="325.34" y="230.70" width="8.32" height="8.32" fill="#e14200"/><rect x="332.65" y="230.70" width="8.32" height="8.32" fill="#e14200"/><rect x="339.97" y="230.70" width="8.32" height="8.32" fill="#cf2b00"/><rect x="347.28" y="230.70" width="8.32" height="8.32" fill="#cf2b00"/><rect x="354.60" y="230.70" width="8.32" height="8.32" fill="#bf1700"/><rect x="361.92" y="230.70" width="8.32" height="8.32" fill="#b20600"/><rect x="369.23" y="230.70" width="8.32" height="8.32" fill="#980000"/><rect x="376.55" y="230.70" width="8.32" height="8.32" fill="#980000"/><rect x="383.86" y="230.70" width="8.32" height="8.32" fill="#8b0000"/><rect x="391.18" y="230.70" width="8.32" height="8.32" fill="#980000"/><rect x="398.50" y="230.70" width="8.32" height="8.32" fill="#980000"/><rect x="405.81" y="230.70" width="8.32" height="8.32" fill="#a50000"/><rect x="413.13" y="230.70" width="8.32" height="8.32" fill="#b20600"/><rect x="420.44" y="230.70" width="8.32" height="8.32" fill="#bf1700"/><rect x="427.76" y="230.70" width="8.32" height="8.32" fill="#cf2b00"/><rect x="435.08" y="230.70" width="8.32" height="8.32" fill="#cf2b00"/><rect x="442.39" y="230.70" width="8.32" height="8.32" fill="#f25900"/><rect x="449.71" y="230.70" width="8.32" height="8.32" fill="#f25900"/><rect x="457.02" y="230.70" width="8.32" height="8.32" fill="#f25900"/><rect x="464.34" y="230.70" width="8.32" height="8.32" fill="#ff6f00"/><rect x="471.66" y="230.70" width="8.32" height="8.32" fill="#ff8808"/><rect x="478.97" y="230.70" width="8.32" height="8.32" fill="#ff8808"/><rect x="486.29" y="230.70" width="8.32" height="8.32" fill="#ff8808"/><rect x="493.60" y="230.70" width="8.32" height="8.32" fill="#ff9f37"/><rect x="500.92" y="230.70" width="8.32" height="8.32" fill="#ff8808"/><rect x="508.24" y="230.70" width="8.32" height="8.32" fill="#f25900"/><rect x="515.55" y="230.70" width="8.32" height="7.32" fill="#ff9f37"/><rect x="522.87" y="230.70" width="8.32" height="8.32" fill="#ff8808"/><rect x="530.18" y="230.70" width="8.32" height="8.32" fill="#ff9f37"/><rect x="537.50" y="230.70" width="8.32" height="8.32" fill="#ffc381"/><rect x="544.82" y="230.70" width="8.32" height="8.32" fill="#ffc381"/><rect x="552.13" y="230.70" width="8.32" height="8.32" fill="#ffc381"/><rect x="559.45" y="230.70" width="7.32" height="7.32" fill="#ff9f37"/><rect x="581.40" y="230.70" width="8.32" height="7.32" fill="#ffc381"/><rect x="588.71" y="230.70" width="7.32" height="8.32" fill="#ffc381"/><rect x="171.70" y="238.02" width="8.32" height="8.32" fill="#ffc381"/><rect x="179.02" y="238.02" width="7.32" height="8.32" fill="#ffc381"/><rect x="193.65" y="238.02" width="7.32" height="8.32" fill="#ff9f37"/><rect x="215.60" y="238.02" width="8.32" height="7.32" fill="#ff9f37"/><rect x="222.91" y="238.02" width="7.32" height="8.32" fill="#ffc381"/><rect x="237.54" y="238.02" width="8.32" height="8.32" fill="#ff8808"/><rect x="244.86" y="238.02" width="8.32" height="8.32" fill="#ff8808"/><rect x="252.18" y="238.02" width="8.32" height="8.32" fill="#ffc381"/><rect x="259.49" y="238.02" width="8.32" height="8.32" fill="#ff8808"/><rect x="266.81" y="238.02" width="8.32" height="8.32" fill="#ff8808"/><rect x="274.12" y="238.02" width="8.32" height="8.32" fill="#ff8808"/><rect x="281.44" y="238.02" width="8.32" height="8.32" fill="#ff8808"/><rect x="288.76" y="238.02" width="8.32" height="8.32" fill="#f25900"/><rect x="296.07" y="238.02" width="8.32" height="8.32" fill="#f25900"/><rect x="303.39" y="238.02" width="8.32" height="8.32" fill="#ff6f00"/><rect x="310.70" y="238.02" width="8.32" height="8.32" fill="#e14200"/><rect x="318.02" y="238.02" width="8.32" height="8.32" fill="#cf2b00"/><rect x="325.34" y="238.02" width="8.32" height="8.32" fill="#e14200"/><rect x="332.65" y="238.02" width="8.32" height="8.32" fill="#cf2b00"/><rect x="339.97" y="238.02" width="8.32" height="8.32" fill="#bf1700"/><rect x="347.28" y="238.02" width="8.32" height="8.32" fill="#b20600"/><rect x="354.60" y="238.02" width="8.32" height="8.32" fill="#a50000"/><rect x="361.92" y="238.02" width="8.32" height="8.32" fill="#980000"/><rect x="369.23" y="238.02" width="8.32" height="8.32" fill="#7d0000"/><rect x="376.55" y="238.02" width="8.32" height="8.32" fill="#6e0000"/><rect x="383.86" y="238.02" width="8.32" height="8.32" fill="#6e0000"/><rect x="391.18" y="238.02" width="8.32" height="8.32" fill="#6e0000"/><rect x="398.50" y="238.02" width="8.32" height="8.32" fill="#7d0000"/><rect x="405.81" y="238.02" width="8.32" height="8.32" fill="#8b0000"/><rect x="413.13" y="238.02" width="8.32" height="8.32" fill="#980000"/><rect x="420.44" y="238.02" width="8.32" height="8.32" fill="#a50000"/><rect x="427.76" y="238.02" width="8.32" height="8.32" fill="#bf1700"/><rect x="435.08" y="238.02" width="8.32" height="8.32" fill="#bf1700"/><rect x="442.39" y="238.02" width="8.32" height="8.32" fill="#f25900"/><rect x="449.71" y="238.02" width="8.32" height="8.32" fill="#f25900"/><rect x="457.02" y="238.02" width="8.32" height="8.32" fill="#f25900"/><rect x="464.34" y="238.02" width="8.32" height="8.32" fill="#ff6f00"/><rect x="471.66" y="238.02" width="8.32" height="8.32" fill="#ff6f00"/><rect x="478.97" y="238.02" width="8.32" height="8.32" fill="#ff6f00"/><rect x="486.29" y="238.02" width="8.32" height="8.32" fill="#ff9f37"/><rect x="493.60" y="238.02" width="8.32" height="8.32" fill="#ff8808"/><rect x="500.92" y="238.02" width="8.32" height="8.32" fill="#ff9f37"/><rect x="508.24" y="238.02" width="7.32" height="8.32" fill="#ff8808"/><rect x="522.87" y="238.02" width="8.32" height="8.32" fill="#ff8808"/><rect x="530.18" y="238.02" width="8.32" height="8.32" fill="#ff6f00"/><rect x="537.50" y="238.02" width="8.32" height="7.32" fill="#ff9f37"/><rect x="544.82" y="238.02" width="8.32" height="8.32" fill="#ffc381"/><rect x="552.13" y="238.02" width="7.32" height="8.32" fill="#ff9f37"/><rect x="588.71" y="238.02" width="7.32" height="7.32" fill="#ffc381"/><rect x="171.70" y="245.33" width="8.32" height="8.32" fill="#ff9f37"/><rect x="179.02" y="245.33" width="8.32" height="7.32" fill="#ff9f37"/><rect x="186.33" y="245.33" width="8.32" height="8.32" fill="#ff9f37"/><rect x="193.65" y="245.33" width="7.32" height="7.32" fill="#ff9f37"/><rect x="208.28" y="245.33" width="7.32" height="8.32" fill="#ff9f37"/><rect x="222.91" y="245.33" width="8.32" height="8.32" fill="#ff8808"/><rect x="230.23" y="245.33" width="8.32" height="8.32" fill="#ff9f37"/><rect x="237.54" y="245.33" width="8.32" height="7.32" fill="#ff9f37"/><rect x="244.86" y="245.33" width="8.32" height="8.32" fill="#ffc381"/><rect x="252.18" y="245.33" width="8.32" height="8.32" fill="#ff8808"/><rect x="259.49" y="245.33" width="8.32" height="8.32" fill="#ff9f37"/><rect x="266.81" y="245.33" width="8.32" height="8.32" fill="#ff6f00"/><rect x="274.12" y="245.33" width="8.32" height="8.32" fill="#f25900"/><rect x="281.44" y="245.33" width="8.32" height="8.32" fill="#ff8808"/><rect x="288.76" y="245.33" width="8.32" height="8.32" fill="#f25900"/><rect x="296.07" y="245.33" width="8.32" height="8.32" fill="#ff6f00"/><rect x="303.39" y="245.33" width="8.32" height="8.32" fill="#f25900"/><rect x="310.70" y="245.33" width="8.32" height="8.32" fill="#f25900"/><rect x="318.02" y="245.33" width="8.32" height="8.32" fill="#e14200"/><rect x="325.34" y="245.33" width="8.32" height="8.32" fill="#cf2b00"/><rect x="332.65" y="245.33" width="8.32" height="8.32" fill="#bf1700"/><rect x="339.97" y="245.33" width="8.32" height="8.32" fill="#bf1700"/><rect x="347.28" y="245.33" width="8.32" height="8.32" fill="#b20600"/><rect x="354.60" y="245.33" width="8.32" height="8.32" fill="#980000"/><rect x="361.92" y="245.33" width="8.32" height="8.32" fill="#8b0000"/><rect x="369.23" y="245.33" width="8.32" height="8.32" fill="#5d0000"/><rect x="376.55" y="245.33" width="8.32" height="8.32" fill="#4e0000"/><rect x="383.86" y="245.33" width="8.32" height="8.32" fill="#4e0000"/><rect x="391.18" y="245.33" width="8.32" height="8.32" fill="#4e0000"/><rect x="398.50" y="245.33" width="8.32" height="8.32" fill="#5d0000"/><rect x="405.81" y="245.33" width="8.32" height="8.32" fill="#6e0000"/><rect x="413.13" y="245.33" width="8.32" height="8.32" fill="#8b0000"/><rect x="420.44" y="245.33" width="8.32" height="8.32" fill="#980000"/><rect x="427.76" y="245.33" width="8.32" height="8.32" fill="#a50000"/><rect x="435.08" y="245.33" width="8.32" height="8.32" fill="#b20600"/><rect x="442.39" y="245.33" width="8.32" height="8.32" fill="#e14200"/><rect x="449.71" y="245.33" width="8.32" height="8.32" fill="#cf2b00"/><rect x="457.02" y="245.33" width="8.32" height="8.32" fill="#e14200"/><rect x="464.34" y="245.33" width="8.32" height="8.32" fill="#f25900"/><rect x="471.66" y="245.33" width="8.32" height="8.32" fill="#f25900"/><rect x="478.97" y="245.33" width="8.32" height="8.32" fill="#ff8808"/><rect x="486.29" y="245.33" width="8.32" height="8.32" fill="#ff8808"/><rect x="493.60" y="245.33" width="8.32" height="8.32" fill="#ffc381"/><rect x="500.92" y="245.33" width="8.32" height="8.32" fill="#ff8808"/><rect x="508.24" y="245.33" width="8.32" height="8.32" fill="#ffc381"/><rect x="515.55" y="245.33" width="8.32" height="8.32" fill="#ff9f37"/><rect x="522.87" y="245.33" width="8.32" height="8.32" fill="#ff9f37"/><rect x="530.18" y="245.33" width="7.32" height="8.32" fill="#ff6f00"/><rect x="544.82" y="245.33" width="8.32" height="7.32" fill="#ff9f37"/><rect x="552.13" y="245.33" width="8.32" height="7.32" fill="#ff9f37"/><rect x="559.45" y="245.33" width="7.32" height="8.32" fill="#ffc381"/><rect x="610.66" y="245.33" width="7.32" height="7.32" fill="#ffc381"/><rect x="171.70" y="252.65" width="7.32" height="7.32" fill="#ff9f37"/><rect x="186.33" y="252.65" width="7.32" height="7.32" fill="#ff8808"/><rect x="208.28" y="252.65" width="8.32" height="8.32" fill="#ff9f37"/><rect x="215.60" y="252.65" width="8.32" height="8.32" fill="#ffc381"/><rect x="222.91" y="252.65" width="8.32" height="7.32" fill="#ff9f37"/><rect x="230.23" y="252.65" width="7.32" height="8.32" fill="#ffc381"/><rect x="244.86" y="252.65" width="8.32" height="7.32" fill="#ffc381"/><rect x="252.18" y="252.65" width="8.32" height="8.32" fill="#ff8808"/><rect x="259.49" y="252.65" width="8.32" height="8.32" fill="#ff8808"/><rect x="266.81" y="252.65" width="8.32" height="8.32" fill="#ff6f00"/><rect x="274.12" y="252.65" width="8.32" height="8.32" fill="#f25900"/><rect x="281.44" y="252.65" width="8.32" height="8.32" fill="#ff6f00"/><rect x="288.76" y="252.65" width="8.32" height="8.32" fill="#e14200"/><rect x="296.07" y="252.65" width="8.32" height="8.32" fill="#ff6f00"/><rect x="303.39" y="252.65" width="8.32" height="8.32" fill="#f25900"/><rect x="310.70" y="252.65" width="8.32" height="8.32" fill="#e14200"/><rect x="318.02" y="252.65" width="8.32" height="8.32" fill="#e14200"/><rect x="325.34" y="252.65" width="8.32" height="8.32" fill="#cf2b00"/><rect x="332.65" y="252.65" width="8.32" height="8.32" fill="#cf2b00"/><rect x="339.97" y="252.65" width="8.32" height="8.32" fill="#bf1700"/><rect x="347.28" y="252.65" width="8.32" height="8.32" fill="#a50000"/><rect x="354.60" y="252.65" width="8.32" height="8.32" fill="#8b0000"/><rect x="361.92" y="252.65" width="8.32" height="8.32" fill="#7d0000"/><rect x="369.23" y="252.65" width="8.32" height="8.32" fill="#4e0000"/><rect x="376.55" y="252.65" width="8.32" height="8.32" fill="#400000"/><rect x="383.86" y="252.65" width="8.32" height="8.32" fill="#310000"/><rect x="391.18" y="252.65" width="8.32" height="8.32" fill="#310000"/><rect x="398.50" y="252.65" width="8.32" height="8.32" fill="#400000"/><rect x="405.81" y="252.65" width="8.32" height="8.32" fill="#4e0000"/><rect x="413.13" y="252.65" width="8.32" height="8.32" fill="#6e0000"/><rect x="420.44" y="252.65" width="8.32" height="8.32" fill="#980000"/><rect x="427.76" y="252.65" width="8.32" height="8.32" fill="#a50000"/><rect x="435.08" y="252.65" width="8.32" height="8.32" fill="#b20600"/><rect x="442.39" y="252.65" width="8.32" height="8.32" fill="#cf2b00"/><rect x="449.71" y="252.65" width="8.32" height="8.32" fill="#e14200"/><rect x="457.02" y="252.65" width="8.32" height="8.32" fill="#ff6f00"/><rect x="464.34" y="252.65" width="8.32" height="8.32" fill="#f25900"/><rect x="471.66" y="252.65" width="8.32" height="8.32" fill="#e14200"/><rect x="478.97" y="252.65" width="8.32" height="8.32" fill="#ff6f00"/><rect x="486.29" y="252.65" width="8.32" height="8.32" fill="#ff6f00"/><rect x="493.60" y="252.65" width="8.32" height="8.32" fill="#ff9f37"/><rect x="500.92" y="252.65" width="8.32" height="8.32" fill="#ff8808"/><rect x="508.24" y="252.65" width="8.32" height="8.32" fill="#ff8808"/><rect x="515.55" y="252.65" width="8.32" height="8.32" fill="#ff8808"/><rect x="522.87" y="252.65" width="8.32" height="8.32" fill="#ff8808"/><rect x="530.18" y="252.65" width="7.32" height="8.32" fill="#ff9f37"/><rect x="559.45" y="252.65" width="8.32" height="8.32" fill="#ffc381"/><rect x="566.76" y="252.65" width="7.32" height="7.32" fill="#ffc381"/><rect x="588.71" y="252.65" width="7.32" height="7.32" fill="#ffc381"/><rect x="193.65" y="259.96" width="8.32" height="8.32" fill="#ff8808"/><rect x="200.96" y="259.96" width="8.32" height="8.32" fill="#ff8808"/><rect x="208.28" y="259.96" width="8.32" height="8.32" fill="#ffc381"/><rect x="215.60" y="259.96" width="7.32" height="8.32" fill="#ffc381"/><rect x="230.23" y="259.96" width="8.32" height="7.32" fill="#ff8808"/><rect x="237.54" y="259.96" width="7.32" height="8.32" fill="#ff8808"/><rect x="252.18" y="259.96" width="8.32" height="8.32" fill="#ffc381"/><rect x="259.49" y="259.96" width="8.32" height="8.32" fill="#ff6f00"/><rect x="266.81" y="259.96" width="8.32" height="8.32" fill="#ff8808"/><rect x="274.12" y="259.96" width="8.32" height="8.32" fill="#e14200"/><rect x="281.44" y="259.96" width="8.32" height="8.32" fill="#ff6f00"/><rect x="288.76" y="259.96" width="8.32" height="8.32" fill="#ff6f00"/><rect x="296.07" y="259.96" width="8.32" height="8.32" fill="#ff6f00"/><rect x="303.39" y="259.96" width="8.32" height="8.32" fill="#e14200"/><rect x="310.70" y="259.96" width="8.32" height="8.32" fill="#cf2b00"/><rect x="318.02" y="259.96" width="8.32" height="8.32" fill="#e14200"/><rect x="325.34" y="259.96" width="8.32" height="8.32" fill="#bf1700"/><rect x="332.65" y="259.96" width="8.32" height="8.32" fill="#bf1700"/><rect x="339.97" y="259.96" width="8.32" height="8.32" fill="#b20600"/><rect x="347.28" y="259.96" width="8.32" height="8.32" fill="#980000"/><rect x="354.60" y="259.96" width="8.32" height="8.32" fill="#8b0000"/><rect x="361.92" y="259.96" width="8.32" height="8.32" fill="#6e0000"/><rect x="369.23" y="259.96" width="8.32" height="8.32" fill="#400000"/><rect x="376.55" y="259.96" width="8.32" height="8.32" fill="#310000"/><rect x="383.86" y="259.96" width="8.32" height="8.32" fill="#310000"/><rect x="391.18" y="259.96" width="8.32" height="8.32" fill="#230000"/><rect x="398.50" y="259.96" width="8.32" height="8.32" fill="#310000"/><rect x="405.81" y="259.96" width="8.32" height="8.32" fill="#4e0000"/><rect x="413.13" y="259.96" width="8.32" height="8.32" fill="#6e0000"/><rect x="420.44" y="259.96" width="8.32" height="8.32" fill="#980000"/><rect x="427.76" y="259.96" width="8.32" height="8.32" fill="#a50000"/><rect x="435.08" y="259.96" width="8.32" height="8.32" fill="#b20600"/><rect x="442.39" y="259.96" width="8.32" height="8.32" fill="#cf2b00"/><rect x="449.71" y="259.96" width="8.32" height="8.32" fill="#f25900"/><rect x="457.02" y="259.96" width="8.32" height="8.32" fill="#f25900"/><rect x="464.34" y="259.96" width="8.32" height="8.32" fill="#f25900"/><rect x="471.66" y="259.96" width="8.32" height="8.32" fill="#ff6f00"/><rect x="478.97" y="259.96" width="8.32" height="8.32" fill="#f25900"/><rect x="486.29" y="259.96" width="8.32" height="8.32" fill="#ff8808"/><rect x="493.60" y="259.96" width="8.32" height="8.32" fill="#ff9f37"/><rect x="500.92" y="259.96" width="8.32" height="8.32" fill="#ff8808"/><rect x="508.24" y="259.96" width="8.32" height="8.32" fill="#ff8808"/><rect x="515.55" y="259.96" width="8.32" height="8.32" fill="#ffc381"/><rect x="522.87" y="259.96" width="8.32" height="7.32" fill="#ffc381"/><rect x="530.18" y="259.96" width="8.32" height="7.32" fill="#ff9f37"/><rect x="537.50" y="259.96" width="7.32" height="7.32" fill="#ff8808"/><rect x="552.13" y="259.96" width="8.32" height="8.32" fill="#ff9f37"/><rect x="559.45" y="259.96" width="7.32" height="8.32" fill="#ffc381"/><rect x="574.08" y="259.96" width="8.32" height="8.32" fill="#ffc381"/><rect x="581.40" y="259.96" width="7.32" height="8.32" fill="#ffc381"/><rect x="596.03" y="259.96" width="8.32" height="7.32" fill="#ffc381"/><rect x="603.34" y="259.96" width="7.32" height="8.32" fill="#ffc381"/><rect x="171.70" y="267.28" width="8.32" height="8.32" fill="#ff9f37"/><rect x="179.02" y="267.28" width="8.32" height="7.32" fill="#ffc381"/><rect x="186.33" y="267.28" width="8.32" height="8.32" fill="#ffc381"/><rect x="193.65" y="267.28" width="8.32" height="8.32" fill="#ff9f37"/><rect x="200.96" y="267.28" width="8.32" height="7.32" fill="#ff9f37"/><rect x="208.28" y="267.28" width="8.32" height="8.32" fill="#ffc381"/><rect x="215.60" y="267.28" width="8.32" height="8.32" fill="#ff9f37"/><rect x="222.91" y="267.28" width="7.32" height="8.32" fill="#ffc381"/><rect x="237.54" y="267.28" width="8.32" height="8.32" fill="#ffc381"/><rect x="244.86" y="267.28" width="8.32" height="8.32" fill="#ff8808"/><rect x="252.18" y="267.28" width="8.32" height="8.32" fill="#ff8808"/><rect x="259.49" y="267.28" width="8.32" height="8.32" fill="#ff6f00"/><rect x="266.81" y="267.28" width="8.32" height="8.32" fill="#ff8808"/><rect x="274.12" y="267.28" width="8.32" height="8.32" fill="#e14200"/><rect x="281.44" y="267.28" width="8.32" height="8.32" fill="#e14200"/><rect x="288.76" y="267.28" width="8.32" height="8.32" fill="#e14200"/><rect x="296.07" y="267.28" width="8.32" height="8.32" fill="#cf2b00"/><rect x="303.39" y="267.28" width="8.32" height="8.32" fill="#f25900"/><rect x="310.70" y="267.28" width="8.32" height="8.32" fill="#e14200"/><rect x="318.02" y="267.28" width="8.32" height="8.32" fill="#cf2b00"/><rect x="325.34" y="267.28" width="8.32" height="8.32" fill="#bf1700"/><rect x="332.65" y="267.28" width="8.32" height="8.32" fill="#bf1700"/><rect x="339.97" y="267.28" width="8.32" height="8.32" fill="#b20600"/><rect x="347.28" y="267.28" width="8.32" height="8.32" fill="#980000"/><rect x="354.60" y="267.28" width="8.32" height="8.32" fill="#8b0000"/><rect x="361.92" y="267.28" width="8.32" height="8.32" fill="#7d0000"/><rect x="369.23" y="267.28" width="8.32" height="8.32" fill="#400000"/><rect x="376.55" y="267.28" width="8.32" height="8.32" fill="#310000"/><rect x="383.86" y="267.28" width="8.32" height="8.32" fill="#230000"/><rect x="391.18" y="267.28" width="8.32" height="8.32" fill="#000000"/><rect x="398.50" y="267.28" width="8.32" height="8.32" fill="#310000"/><rect x="405.81" y="267.28" width="8.32" height="8.32" fill="#400000"/><rect x="413.13" y="267.28" width="8.32" height="8.32" fill="#5d0000"/><rect x="420.44" y="267.28" width="8.32" height="8.32" fill="#980000"/><rect x="427.76" y="267.28" width="8.32" height="8.32" fill="#a50000"/><rect x="435.08" y="267.28" width="8.32" height="8.32" fill="#b20600"/><rect x="442.39" y="267.28" width="8.32" height="8.32" fill="#bf1700"/><rect x="449.71" y="267.28" width="8.32" height="8.32" fill="#f25900"/><rect x="457.02" y="267.28" width="8.32" height="8.32" fill="#e14200"/><rect x="464.34" y="267.28" width="8.32" height="8.32" fill="#f25900"/><rect x="471.66" y="267.28" width="8.32" height="8.32" fill="#cf2b00"/><rect x="478.97" y="267.28" width="8.32" height="8.32" fill="#e14200"/><rect x="486.29" y="267.28" width="8.32" height="8.32" fill="#ffc381"/><rect x="493.60" y="267.28" width="8.32" height="8.32" fill="#ff8808"/><rect x="500.92" y="267.28" width="8.32" height="8.32" fill="#ff8808"/><rect x="508.24" y="267.28" width="8.32" height="8.32" fill="#ff8808"/><rect x="515.55" y="267.28" width="7.32" height="7.32" fill="#ffc381"/><rect x="544.82" y="267.28" width="8.32" height="8.32" fill="#ffc381"/><rect x="552.13" y="267.28" width="8.32" height="7.32" fill="#ff9f37"/><rect x="559.45" y="267.28" width="7.32" height="7.32" fill="#ffc381"/><rect x="574.08" y="267.28" width="8.32" height="7.32" fill="#ffc381"/><rect x="581.40" y="267.28" width="8.32" height="7.32" fill="#ff9f37"/><rect x="588.71" y="267.28" width="7.32" height="7.32" fill="#ffc381"/><rect x="603.34" y="267.28" width="7.32" height="8.32" fill="#ffc381"/><rect x="171.70" y="274.60" width="7.32" height="7.32" fill="#ffc381"/><rect x="186.33" y="274.60" width="8.32" height="7.32" fill="#ff9f37"/><rect x="193.65" y="274.60" width="7.32" height="8.32" fill="#ffc381"/><rect x="208.28" y="274.60" width="8.32" height="8.32" fill="#ff9f37"/><rect x="215.60" y="274.60" width="8.32" height="8.32" fill="#ff8808"/><rect x="222.91" y="274.60" width="8.32" height="7.32" fill="#ffc381"/><rect x="230.23" y="274.60" width="8.32" height="7.32" fill="#ff8808"/><rect x="237.54" y="274.60" width="8.32" height="8.32" fill="#ff8808"/><rect x="244.86" y="274.60" width="8.32" height="8.32" fill="#ff8808"/><rect x="252.18" y="274.60" width="8.32" height="8.32" fill="#ff9f37"/><rect x="259.49" y="274.60" width="8.32" height="8.32" fill="#ff9f37"/><rect x="266.81" y="274.60" width="8.32" height="8.32" fill="#ff6f00"/><rect x="274.12" y="274.60" width="8.32" height="8.32" fill="#ff6f00"/><rect x="281.44" y="274.60" width="8.32" height="8.32" fill="#e14200"/><rect x="288.76" y="274.60" width="8.32" height="8.32" fill="#f25900"/><rect x="296.07" y="274.60" width="8.32" height="8.32" fill="#e14200"/><rect x="303.39" y="274.60" width="8.32" height="8.32" fill="#f25900"/><rect x="310.70" y="274.60" width="8.32" height="8.32" fill="#e14200"/><rect x="318.02" y="274.60" width="8.32" height="8.32" fill="#e14200"/><rect x="325.34" y="274.60" width="8.32" height="8.32" fill="#cf2b00"/><rect x="332.65" y="274.60" width="8.32" height="8.32" fill="#bf1700"/><rect x="339.97" y="274.60" width="8.32" height="8.32" fill="#bf1700"/><rect x="347.28" y="274.60" width="8.32" height="8.32" fill="#a50000"/><rect x="354.60" y="274.60" width="8.32" height="8.32" fill="#980000"/><rect x="361.92" y="274.60" width="8.32" height="8.32" fill="#8b0000"/><rect x="369.23" y="274.60" width="8.32" height="8.32" fill="#4e0000"/><rect x="376.55" y="274.60" width="8.32" height="8.32" fill="#400000"/><rect x="383.86" y="274.60" width="8.32" height="8.32" fill="#400000"/><rect x="391.18" y="274.60" width="8.32" height="8.32" fill="#310000"/><rect x="398.50" y="274.60" width="8.32" height="8.32" fill="#400000"/><rect x="405.81" y="274.60" width="8.32" height="8.32" fill="#4e0000"/><rect x="413.13" y="274.60" width="8.32" height="8.32" fill="#6e0000"/><rect x="420.44" y="274.60" width="8.32" height="8.32" fill="#a50000"/><rect x="427.76" y="274.60" width="8.32" height="8.32" fill="#b20600"/><rect x="435.08" y="274.60" width="8.32" height="8.32" fill="#bf1700"/><rect x="442.39" y="274.60" width="8.32" height="8.32" fill="#e14200"/><rect x="449.71" y="274.60" width="8.32" height="8.32" fill="#cf2b00"/><rect x="457.02" y="274.60" width="8.32" height="8.32" fill="#e14200"/><rect x="464.34" y="274.60" width="8.32" height="8.32" fill="#f25900"/><rect x="471.66" y="274.60" width="8.32" height="8.32" fill="#ff6f00"/><rect x="478.97" y="274.60" width="8.32" height="8.32" fill="#ff8808"/><rect x="486.29" y="274.60" width="8.32" height="8.32" fill="#ff8808"/><rect x="493.60" y="274.60" width="8.32" height="8.32" fill="#ff8808"/><rect x="500.92" y="274.60" width="8.32" height="8.32" fill="#ff9f37"/><rect x="508.24" y="274.60" width="7.32" height="8.32" fill="#ff8808"/><rect x="522.87" y="274.60" width="7.32" height="8.32" fill="#ffc381"/><rect x="537.50" y="274.60" width="8.32" height="7.32" fill="#ffc381"/><rect x="544.82" y="274.60" width="7.32" height="8.32" fill="#ff9f37"/><rect x="566.76" y="274.60" width="7.32" height="8.32" fill="#ff9f37"/><rect x="596.03" y="274.60" width="8.32" height="7.32" fill="#ffc381"/><rect x="603.34" y="274.60" width="7.32" height="7.32" fill="#ff9f37"/><rect x="179.02" y="281.91" width="7.32" height="8.32" fill="#ffc381"/><rect x="193.65" y="281.91" width="7.32" height="8.32" fill="#ff9f37"/><rect x="208.28" y="281.91" width="8.32" height="8.32" fill="#ffc381"/><rect x="215.60" y="281.91" width="7.32" height="7.32" fill="#ff8808"/><rect x="237.54" y="281.91" width="8.32" height="8.32" fill="#ffc381"/><rect x="244.86" y="281.91" width="8.32" height="8.32" fill="#ffc381"/><rect x="252.18" y="281.91" width="8.32" height="8.32" fill="#ff9f37"/><rect x="259.49" y="281.91" width="8.32" height="8.32" fill="#ff8808"/><rect x="266.81" y="281.91" width="8.32" height="8.32" fill="#f25900"/><rect x="274.12" y="281.91" width="8.32" height="8.32" fill="#ff6f00"/><rect x="281.44" y="281.91" width="8.32" height="8.32" fill="#f25900"/><rect x="288.76" y="281.91" width="8.32" height="8.32" fill="#e14200"/><rect x="296.07" y="281.91" width="8.32" height="8.32" fill="#ff6f00"/><rect x="303.39" y="281.91" width="8.32" height="8.32" fill="#f25900"/><rect x="310.70" y="281.91" width="8.32" height="8.32" fill="#e14200"/><rect x="318.02" y="281.91" width="8.32" height="8.32" fill="#e14200"/><rect x="325.34" y="281.91" width="8.32" height="8.32" fill="#cf2b00"/><rect x="332.65" y="281.91" width="8.32" height="8.32" fill="#cf2b00"/><rect x="339.97" y="281.91" width="8.32" height="8.32" fill="#bf1700"/><rect x="347.28" y="281.91" width="8.32" height="8.32" fill="#b20600"/><rect x="354.60" y="281.91" width="8.32" height="8.32" fill="#980000"/><rect x="361.92" y="281.91" width="8.32" height="8.32" fill="#8b0000"/><rect x="369.23" y="281.91" width="8.32" height="8.32" fill="#5d0000"/><rect x="376.55" y="281.91" width="8.32" height="8.32" fill="#5d0000"/><rect x="383.86" y="281.91" width="8.32" height="8.32" fill="#5d0000"/><rect x="391.18" y="281.91" width="8.32" height="8.32" fill="#4e0000"/><rect x="398.50" y="281.91" width="8.32" height="8.32" fill="#5d0000"/><rect x="405.81" y="281.91" width="8.32" height="8.32" fill="#6e0000"/><rect x="413.13" y="281.91" width="8.32" height="8.32" fill="#7d0000"/><rect x="420.44" y="281.91" width="8.32" height="8.32" fill="#a50000"/><rect x="427.76" y="281.91" width="8.32" height="8.32" fill="#b20600"/><rect x="435.08" y="281.91" width="8.32" height="8.32" fill="#bf1700"/><rect x="442.39" y="281.91" width="8.32" height="8.32" fill="#e14200"/><rect x="449.71" y="281.91" width="8.32" height="8.32" fill="#e14200"/><rect x="457.02" y="281.91" width="8.32" height="8.32" fill="#e14200"/><rect x="464.34" y="281.91" width="8.32" height="8.32" fill="#ff8808"/><rect x="471.66" y="281.91" width="8.32" height="8.32" fill="#ff6f00"/><rect x="478.97" y="281.91" width="8.32" height="8.32" fill="#ff6f00"/><rect x="486.29" y="281.91" width="8.32" height="8.32" fill="#ff6f00"/><rect x="493.60" y="281.91" width="8.32" height="8.32" fill="#ffc381"/><rect x="500.92" y="281.91" width="8.32" height="8.32" fill="#ff6f00"/><rect x="508.24" y="281.91" width="7.32" height="8.32" fill="#ff8808"/><rect x="522.87" y="281.91" width="8.32" height="7.32" fill="#ffc381"/><rect x="530.18" y="281.91" width="7.32" height="7.32" fill="#ffc381"/><rect x="544.82" y="281.91" width="8.32" height="7.32" fill="#ff9f37"/><rect x="552.13" y="281.91" width="7.32" height="7.32" fill="#ffc381"/><rect x="566.76" y="281.91" width="7.32" height="8.32" fill="#ff9f37"/><rect x="588.71" y="281.91" width="7.32" height="7.32" fill="#ffc381"/><rect x="179.02" y="289.23" width="7.32" height="7.32" fill="#ffc381"/><rect x="193.65" y="289.23" width="8.32" height="7.32" fill="#ffc381"/><rect x="200.96" y="289.23" width="8.32" height="8.32" fill="#ff8808"/><rect x="208.28" y="289.23" width="7.32" height="7.32" fill="#ff9f37"/><rect x="222.91" y="289.23" width="8.32" height="7.32" fill="#ff8808"/><rect x="230.23" y="289.23" width="8.32" height="8.32" fill="#ffc381"/><rect x="237.54" y="289.23" width="8.32" height="7.32" fill="#ff9f37"/><rect x="244.86" y="289.23" width="8.32" height="8.32" fill="#ffc381"/><rect x="252.18" y="289.23" width="8.32" height="8.32" fill="#ff9f37"/><rect x="259.49" y="289.23" width="8.32" height="7.32" fill="#ff9f37"/><rect x="266.81" y="289.23" width="8.32" height="8.32" fill="#ff6f00"/><rect x="274.12" y="289.23" width="8.32" height="8.32" fill="#f25900"/><rect x="281.44" y="289.23" width="8.32" height="8.32" fill="#ffc381"/><rect x="288.76" y="289.23" width="8.32" height="8.32" fill="#f25900"/><rect x="296.07" y="289.23" width="8.32" height="8.32" fill="#e14200"/><rect x="303.39" y="289.23" width="8.32" height="8.32" fill="#ff6f00"/><rect x="310.70" y="289.23" width="8.32" height="8.32" fill="#f25900"/><rect x="318.02" y="289.23" width="8.32" height="8.32" fill="#e14200"/><rect x="325.34" y="289.23" width="8.32" height="8.32" fill="#cf2b00"/><rect x="332.65" y="289.23" width="8.32" height="8.32" fill="#cf2b00"/><rect x="339.97" y="289.23" width="8.32" height="8.32" fill="#bf1700"/><rect x="347.28" y="289.23" width="8.32" height="8.32" fill="#bf1700"/><rect x="354.60" y="289.23" width="8.32" height="8.32" fill="#a50000"/><rect x="361.92" y="289.23" width="8.32" height="8.32" fill="#a50000"/><rect x="369.23" y="289.23" width="8.32" height="8.32" fill="#a50000"/><rect x="376.55" y="289.23" width="8.32" height="8.32" fill="#980000"/><rect x="383.86" y="289.23" width="8.32" height="8.32" fill="#8b0000"/><rect x="391.18" y="289.23" width="8.32" height="8.32" fill="#8b0000"/><rect x="398.50" y="289.23" width="8.32" height="8.32" fill="#8b0000"/><rect x="405.81" y="289.23" width="8.32" height="8.32" fill="#980000"/><rect x="413.13" y="289.23" width="8.32" height="8.32" fill="#b20600"/><rect x="420.44" y="289.23" width="8.32" height="8.32" fill="#bf1700"/><rect x="427.76" y="289.23" width="8.32" height="8.32" fill="#cf2b00"/><rect x="435.08" y="289.23" width="8.32" height="8.32" fill="#e14200"/><rect x="442.39" y="289.23" width="8.32" height="8.32" fill="#f25900"/><rect x="449.71" y="289.23" width="8.32" height="8.32" fill="#ff6f00"/><rect x="457.02" y="289.23" width="8.32" height="8.32" fill="#f25900"/><rect x="464.34" y="289.23" width="8.32" height="8.32" fill="#ff6f00"/><rect x="471.66" y="289.23" width="8.32" height="8.32" fill="#ff6f00"/><rect x="478.97" y="289.23" width="8.32" height="8.32" fill="#ff6f00"/><rect x="486.29" y="289.23" width="8.32" height="8.32" fill="#ff6f00"/><rect x="493.60" y="289.23" width="8.32" height="8.32" fill="#ffc381"/><rect x="500.92" y="289.23" width="8.32" height="7.32" fill="#ff8808"/><rect x="508.24" y="289.23" width="7.32" height="7.32" fill="#ff9f37"/><rect x="537.50" y="289.23" width="7.32" height="7.32" fill="#ff8808"/><rect x="566.76" y="289.23" width="7.32" height="7.32" fill="#ffc381"/><rect x="610.66" y="289.23" width="7.32" height="7.32" fill="#ffc381"/><rect x="200.96" y="296.54" width="7.32" height="8.32" fill="#ffc381"/><rect x="215.60" y="296.54" width="7.32" height="8.32" fill="#ffc381"/><rect x="230.23" y="296.54" width="7.32" height="8.32" fill="#ffc381"/><rect x="244.86" y="296.54" width="8.32" height="7.32" fill="#ffc381"/><rect x="252.18" y="296.54" width="7.32" height="7.32" fill="#ff9f37"/><rect x="266.81" y="296.54" width="8.32" height="7.32" fill="#ffc381"/><rect x="274.12" y="296.54" width="8.32" height="8.32" fill="#ffc381"/><rect x="281.44" y="296.54" width="8.32" height="8.32" fill="#ffc381"/><rect x="288.76" y="296.54" width="8.32" height="7.32" fill="#ff6f00"/><rect x="296.07" y="296.54" width="8.32" height="8.32" fill="#ff6f00"/><rect x="303.39" y="296.54" width="8.32" height="8.32" fill="#e14200"/><rect x="310.70" y="296.54" width="8.32" height="8.32" fill="#e14200"/><rect x="318.02" y="296.54" width="8.32" height="8.32" fill="#f25900"/><rect x="325.34" y="296.54" width="8.32" height="8.32" fill="#e14200"/><rect x="332.65" y="296.54" width="8.32" height="8.32" fill="#cf2b00"/><rect x="339.97" y="296.54" width="8.32" height="8.32" fill="#bf1700"/><rect x="347.28" y="296.54" width="8.32" height="8.32" fill="#bf1700"/><rect x="354.60" y="296.54" width="8.32" height="8.32" fill="#a50000"/><rect x="361.92" y="296.54" width="8.32" height="8.32" fill="#a50000"/><rect x="369.23" y="296.54" width="8.32" height="8.32" fill="#980000"/><rect x="376.55" y="296.54" width="8.32" height="8.32" fill="#980000"/><rect x="383.86" y="296.54" width="8.32" height="8.32" fill="#980000"/><rect x="391.18" y="296.54" width="8.32" height="8.32" fill="#980000"/><rect x="398.50" y="296.54" width="8.32" height="8.32" fill="#980000"/><rect x="405.81" y="296.54" width="8.32" height="8.32" fill="#980000"/><rect x="413.13" y="296.54" width="8.32" height="8.32" fill="#b20600"/><rect x="420.44" y="296.54" width="8.32" height="8.32" fill="#bf1700"/><rect x="427.76" y="296.54" width="8.32" height="8.32" fill="#cf2b00"/><rect x="435.08" y="296.54" width="8.32" height="8.32" fill="#ff6f00"/><rect x="442.39" y="296.54" width="8.32" height="8.32" fill="#f25900"/><rect x="449.71" y="296.54" width="8.32" height="8.32" fill="#e14200"/><rect x="457.02" y="296.54" width="8.32" height="8.32" fill="#ff6f00"/><rect x="464.34" y="296.54" width="8.32" height="8.32" fill="#ff6f00"/><rect x="471.66" y="296.54" width="8.32" height="8.32" fill="#ff6f00"/><rect x="478.97" y="296.54" width="8.32" height="8.32" fill="#ff9f37"/><rect x="486.29" y="296.54" width="8.32" height="8.32" fill="#ffc381"/><rect x="493.60" y="296.54" width="7.32" height="8.32" fill="#ffc381"/><rect x="530.18" y="296.54" width="7.32" height="7.32" fill="#ff9f37"/><rect x="559.45" y="296.54" width="7.32" height="7.32" fill="#ffc381"/><rect x="179.02" y="303.86" width="7.32" height="8.32" fill="#ff9f37"/><rect x="193.65" y="303.86" width="8.32" height="7.32" fill="#ff9f37"/><rect x="200.96" y="303.86" width="7.32" height="7.32" fill="#ffc381"/><rect x="215.60" y="303.86" width="8.32" height="7.32" fill="#ffc381"/><rect x="222.91" y="303.86" width="8.32" height="7.32" fill="#ffc381"/><rect x="230.23" y="303.86" width="7.32" height="8.32" fill="#ffc381"/><rect x="259.49" y="303.86" width="7.32" height="8.32" fill="#ff8808"/><rect x="274.12" y="303.86" width="8.32" height="8.32" fill="#ff8808"/><rect x="281.44" y="303.86" width="7.32" height="8.32" fill="#ffc381"/><rect x="296.07" y="303.86" width="8.32" height="8.32" fill="#f25900"/><rect x="303.39" y="303.86" width="8.32" height="8.32" fill="#e14200"/><rect x="310.70" y="303.86" width="8.32" height="8.32" fill="#e14200"/><rect x="318.02" y="303.86" width="8.32" height="8.32" fill="#ff6f00"/><rect x="325.34" y="303.86" width="8.32" height="8.32" fill="#e14200"/><rect x="332.65" y="303.86" width="8.32" height="8.32" fill="#e14200"/><rect x="339.97" y="303.86" width="8.32" height="8.32" fill="#cf2b00"/><rect x="347.28" y="303.86" width="8.32" height="8.32" fill="#cf2b00"/><rect x="354.60" y="303.86" width="8.32" height="8.32" fill="#bf1700"/><rect x="361.92" y="303.86" width="8.32" height="8.32" fill="#bf1700"/><rect x="369.23" y="303.86" width="8.32" height="8.32" fill="#bf1700"/><rect x="376.55" y="303.86" width="8.32" height="8.32" fill="#bf1700"/><rect x="383.86" y="303.86" width="8.32" height="8.32" fill="#b20600"/><rect x="391.18" y="303.86" width="8.32" height="8.32" fill="#bf1700"/><rect x="398.50" y="303.86" width="8.32" height="8.32" fill="#bf1700"/><rect x="405.81" y="303.86" width="8.32" height="8.32" fill="#b20600"/><rect x="413.13" y="303.86" width="8.32" height="8.32" fill="#bf1700"/><rect x="420.44" y="303.86" width="8.32" height="8.32" fill="#cf2b00"/><rect x="427.76" y="303.86" width="8.32" height="8.32" fill="#cf2b00"/><rect x="435.08" y="303.86" width="8.32" height="8.32" fill="#f25900"/><rect x="442.39" y="303.86" width="8.32" height="8.32" fill="#e14200"/><rect x="449.71" y="303.86" width="8.32" height="8.32" fill="#ff8808"/><rect x="457.02" y="303.86" width="8.32" height="8.32" fill="#ff6f00"/><rect x="464.34" y="303.86" width="8.32" height="8.32" fill="#ff6f00"/><rect x="471.66" y="303.86" width="8.32" height="8.32" fill="#ffc381"/><rect x="478.97" y="303.86" width="8.32" height="8.32" fill="#ff9f37"/><rect x="486.29" y="303.86" width="8.32" height="8.32" fill="#ff9f37"/><rect x="493.60" y="303.86" width="8.32" height="8.32" fill="#ff8808"/><rect x="500.92" y="303.86" width="8.32" height="8.32" fill="#ffc381"/><rect x="508.24" y="303.86" width="7.32" height="8.32" fill="#ff8808"/><rect x="522.87" y="303.86" width="7.32" height="8.32" fill="#ffc381"/><rect x="537.50" y="303.86" width="7.32" height="7.32" fill="#ffc381"/><rect x="552.13" y="303.86" width="7.32" height="7.32" fill="#ffc381"/><rect x="596.03" y="303.86" width="7.32" height="8.32" fill="#ffc381"/><rect x="610.66" y="303.86" width="7.32" height="7.32" fill="#ffc381"/><rect x="171.70" y="311.18" width="8.32" height="7.32" fill="#ff9f37"/><rect x="179.02" y="311.18" width="7.32" height="7.32" fill="#ff9f37"/><rect x="230.23" y="311.18" width="8.32" height="7.32" fill="#ffc381"/><rect x="237.54" y="311.18" width="7.32" height="8.32" fill="#ffc381"/><rect x="252.18" y="311.18" width="8.32" height="8.32" fill="#ffc381"/><rect x="259.49" y="311.18" width="7.32" height="8.32" fill="#ff9f37"/><rect x="274.12" y="311.18" width="8.32" height="8.32" fill="#ff8808"/><rect x="281.44" y="311.18" width="8.32" height="8.32" fill="#ff8808"/><rect x="288.76" y="311.18" width="8.32" height="8.32" fill="#ff8808"/><rect x="296.07" y="311.18" width="8.32" height="8.32" fill="#ff8808"/><rect x="303.39" y="311.18" width="8.32" height="8.32" fill="#ff8808"/><rect x="310.70" y="311.18" width="8.32" height="8.32" fill="#ff8808"/><rect x="318.02" y="311.18" width="8.32" height="8.32" fill="#ff9f37"/><rect x="325.34" y="311.18" width="8.32" height="8.32" fill="#e14200"/><rect x="332.65" y="311.18" width="8.32" height="8.32" fill="#f25900"/><rect x="339.97" y="311.18" width="8.32" height="8.32" fill="#e14200"/><rect x="347.28" y="311.18" width="8.32" height="8.32" fill="#e14200"/><rect x="354.60" y="311.18" width="8.32" height="8.32" fill="#bf1700"/><rect x="361.92" y="311.18" width="8.32" height="8.32" fill="#e14200"/><rect x="369.23" y="311.18" width="8.32" height="8.32" fill="#cf2b00"/><rect x="376.55" y="311.18" width="8.32" height="8.32" fill="#bf1700"/><rect x="383.86" y="311.18" width="8.32" height="8.32" fill="#cf2b00"/><rect x="391.18" y="311.18" width="8.32" height="8.32" fill="#e14200"/><rect x="398.50" y="311.18" width="8.32" height="8.32" fill="#cf2b00"/><rect x="405.81" y="311.18" width="8.32" height="8.32" fill="#cf2b00"/><rect x="413.13" y="311.18" width="8.32" height="8.32" fill="#f25900"/><rect x="420.44" y="311.18" width="8.32" height="8.32" fill="#e14200"/><rect x="427.76" y="311.18" width="8.32" height="8.32" fill="#e14200"/><rect x="435.08" y="311.18" width="8.32" height="8.32" fill="#f25900"/><rect x="442.39" y="311.18" width="8.32" height="7.32" fill="#f25900"/><rect x="449.71" y="311.18" width="8.32" height="8.32" fill="#ff8808"/><rect x="457.02" y="311.18" width="8.32" height="8.32" fill="#ff6f00"/><rect x="464.34" y="311.18" width="8.32" height="7.32" fill="#ff6f00"/><rect x="471.66" y="311.18" width="8.32" height="8.32" fill="#ff9f37"/><rect x="478.97" y="311.18" width="8.32" height="7.32" fill="#ffc381"/><rect x="486.29" y="311.18" width="8.32" height="8.32" fill="#ff8808"/><rect x="493.60" y="311.18" width="8.32" height="8.32" fill="#ff8808"/><rect x="500.92" y="311.18" width="8.32" height="8.32" fill="#ffc381"/><rect x="508.24" y="311.18" width="8.32" height="8.32" fill="#ff9f37"/><rect x="515.55" y="311.18" width="8.32" height="7.32" fill="#ff9f37"/><rect x="522.87" y="311.18" width="7.32" height="8.32" fill="#ffc381"/><rect x="566.76" y="311.18" width="7.32" height="7.32" fill="#ffc381"/><rect x="596.03" y="311.18" width="7.32" height="7.32" fill="#ffc381"/><rect x="208.28" y="318.49" width="7.32" height="7.32" fill="#ffc381"/><rect x="222.91" y="318.49" width="7.32" height="8.32" fill="#ffc381"/><rect x="237.54" y="318.49" width="7.32" height="8.32" fill="#ffc381"/><rect x="252.18" y="318.49" width="8.32" height="8.32" fill="#ffc381"/><rect x="259.49" y="318.49" width="8.32" height="7.32" fill="#ffc381"/><rect x="266.81" y="318.49" width="8.32" height="8.32" fill="#ffc381"/><rect x="274.12" y="318.49" width="8.32" height="8.32" fill="#ff6f00"/><rect x="281.44" y="318.49" width="8.32" height="8.32" fill="#ff8808"/><rect x="288.76" y="318.49" width="8.32" height="7.32" fill="#ff8808"/><rect x="296.07" y="318.49" width="8.32" height="8.32" fill="#ffc381"/><rect x="303.39" y="318.49" width="8.32" height="8.32" fill="#ffc381"/><rect x="310.70" y="318.49" width="8.32" height="8.32" fill="#ff8808"/><rect x="318.02" y="318.49" width="8.32" height="8.32" fill="#ffc381"/><rect x="325.34" y="318.49" width="8.32" height="7.32" fill="#f25900"/><rect x="332.65" y="318.49" width="8.32" height="7.32" fill="#f25900"/><rect x="339.97" y="318.49" width="8.32" height="8.32" fill="#ff6f00"/><rect x="347.28" y="318.49" width="8.32" height="8.32" fill="#f25900"/><rect x="354.60" y="318.49" width="8.32" height="8.32" fill="#f25900"/><rect x="361.92" y="318.49" width="8.32" height="8.32" fill="#e14200"/><rect x="369.23" y="318.49" width="8.32" height="8.32" fill="#e14200"/><rect x="376.55" y="318.49" width="8.32" height="8.32" fill="#e14200"/><rect x="383.86" y="318.49" width="8.32" height="8.32" fill="#e14200"/><rect x="391.18" y="318.49" width="8.32" height="8.32" fill="#e14200"/><rect x="398.50" y="318.49" width="8.32" height="8.32" fill="#ff6f00"/><rect x="405.81" y="318.49" width="8.32" height="8.32" fill="#f25900"/><rect x="413.13" y="318.49" width="8.32" height="8.32" fill="#e14200"/><rect x="420.44" y="318.49" width="8.32" height="8.32" fill="#ff6f00"/><rect x="427.76" y="318.49" width="8.32" height="8.32" fill="#e14200"/><rect x="435.08" y="318.49" width="7.32" height="8.32" fill="#f25900"/><rect x="449.71" y="318.49" width="8.32" height="8.32" fill="#ff8808"/><rect x="457.02" y="318.49" width="7.32" height="8.32" fill="#ffc381"/><rect x="471.66" y="318.49" width="7.32" height="7.32" fill="#ffc381"/><rect x="486.29" y="318.49" width="8.32" height="7.32" fill="#ffc381"/><rect x="493.60" y="318.49" width="8.32" height="8.32" fill="#ffc381"/><rect x="500.92" y="318.49" width="8.32" height="7.32" fill="#ffc381"/><rect x="508.24" y="318.49" width="7.32" height="7.32" fill="#ff8808"/><rect x="522.87" y="318.49" width="8.32" height="8.32" fill="#ffc381"/><rect x="530.18" y="318.49" width="7.32" height="7.32" fill="#ff9f37"/><rect x="610.66" y="318.49" width="7.32" height="7.32" fill="#ffc381"/><rect x="200.96" y="325.81" width="7.32" height="8.32" fill="#ffc381"/><rect x="222.91" y="325.81" width="7.32" height="8.32" fill="#ffc381"/><rect x="237.54" y="325.81" width="8.32" height="7.32" fill="#ffc381"/><rect x="244.86" y="325.81" width="8.32" height="7.32" fill="#ffc381"/><rect x="252.18" y="325.81" width="7.32" height="7.32" fill="#ff9f37"/><rect x="266.81" y="325.81" width="8.32" height="7.32" fill="#ffc381"/><rect x="274.12" y="325.81" width="8.32" height="8.32" fill="#ff8808"/><rect x="281.44" y="325.81" width="7.32" height="8.32" fill="#ffc381"/><rect x="296.07" y="325.81" width="8.32" height="7.32" fill="#ff8808"/><rect x="303.39" y="325.81" width="8.32" height="7.32" fill="#ff9f37"/><rect x="310.70" y="325.81" width="8.32" height="7.32" fill="#ff9f37"/><rect x="318.02" y="325.81" width="7.32" height="8.32" fill="#ffc381"/><rect x="339.97" y="325.81" width="8.32" height="8.32" fill="#f25900"/><rect x="347.28" y="325.81" width="8.32" height="8.32" fill="#f25900"/><rect x="354.60" y="325.81" width="8.32" height="8.32" fill="#f25900"/><rect x="361.92" y="325.81" width="8.32" height="8.32" fill="#f25900"/><rect x="369.23" y="325.81" width="8.32" height="8.32" fill="#e14200"/><rect x="376.55" y="325.81" width="8.32" height="8.32" fill="#ffc381"/><rect x="383.86" y="325.81" width="8.32" height="8.32" fill="#ff6f00"/><rect x="391.18" y="325.81" width="8.32" height="8.32" fill="#ff6f00"/><rect x="398.50" y="325.81" width="8.32" height="8.32" fill="#ff6f00"/><rect x="405.81" y="325.81" width="8.32" height="8.32" fill="#f25900"/><rect x="413.13" y="325.81" width="8.32" height="8.32" fill="#f25900"/><rect x="420.44" y="325.81" width="8.32" height="8.32" fill="#f25900"/><rect x="427.76" y="325.81" width="8.32" height="8.32" fill="#e14200"/><rect x="435.08" y="325.81" width="8.32" height="8.32" fill="#ff8808"/><rect x="442.39" y="325.81" width="8.32" height="8.32" fill="#ff9f37"/><rect x="449.71" y="325.81" width="8.32" height="8.32" fill="#ff9f37"/><rect x="457.02" y="325.81" width="8.32" height="8.32" fill="#ff9f37"/><rect x="464.34" y="325.81" width="7.32" height="8.32" fill="#ffc381"/><rect x="478.97" y="325.81" width="7.32" height="8.32" fill="#ff9f37"/><rect x="493.60" y="325.81" width="7.32" height="8.32" fill="#ff9f37"/><rect x="522.87" y="325.81" width="7.32" height="7.32" fill="#ffc381"/><rect x="566.76" y="325.81" width="7.32" height="7.32" fill="#ffc381"/><rect x="200.96" y="333.12" width="7.32" height="7.32" fill="#ffc381"/><rect x="222.91" y="333.12" width="7.32" height="7.32" fill="#ffc381"/><rect x="274.12" y="333.12" width="8.32" height="7.32" fill="#ffc381"/><rect x="281.44" y="333.12" width="8.32" height="8.32" fill="#ffc381"/><rect x="288.76" y="333.12" width="7.32" height="8.32" fill="#ffc381"/><rect x="318.02" y="333.12" width="8.32" height="8.32" fill="#ff8808"/><rect x="325.34" y="333.12" width="8.32" height="8.32" fill="#ff9f37"/><rect x="332.65" y="333.12" width="8.32" height="8.32" fill="#ff9f37"/><rect x="339.97" y="333.12" width="8.32" height="8.32" fill="#ff6f00"/><rect x="347.28" y="333.12" width="8.32" height="8.32" fill="#ff6f00"/><rect x="354.60" y="333.12" width="8.32" height="8.32" fill="#f25900"/><rect x="361.92" y="333.12" width="8.32" height="8.32" fill="#ff6f00"/><rect x="369.23" y="333.12" width="8.32" height="8.32" fill="#f25900"/><rect x="376.55" y="333.12" width="8.32" height="8.32" fill="#ff6f00"/><rect x="383.86" y="333.12" width="8.32" height="8.32" fill="#ff8808"/><rect x="391.18" y="333.12" width="8.32" height="8.32" fill="#ff6f00"/><rect x="398.50" y="333.12" width="8.32" height="8.32" fill="#ff6f00"/><rect x="405.81" y="333.12" width="8.32" height="8.32" fill="#e14200"/><rect x="413.13" y="333.12" width="8.32" height="8.32" fill="#e14200"/><rect x="420.44" y="333.12" width="8.32" height="8.32" fill="#ff8808"/><rect x="427.76" y="333.12" width="8.32" height="8.32" fill="#e14200"/><rect x="435.08" y="333.12" width="8.32" height="8.32" fill="#ffc381"/><rect x="442.39" y="333.12" width="8.32" height="8.32" fill="#ffc381"/><rect x="449.71" y="333.12" width="8.32" height="8.32" fill="#ffc381"/><rect x="457.02" y="333.12" width="8.32" height="8.32" fill="#ffc381"/><rect x="464.34" y="333.12" width="8.32" height="8.32" fill="#ff9f37"/><rect x="471.66" y="333.12" width="8.32" height="7.32" fill="#ff9f37"/><rect x="478.97" y="333.12" width="7.32" height="7.32" fill="#ffc381"/><rect x="493.60" y="333.12" width="8.32" height="8.32" fill="#ffc381"/><rect x="500.92" y="333.12" width="8.32" height="7.32" fill="#ffc381"/><rect x="508.24" y="333.12" width="7.32" height="8.32" fill="#ff9f37"/><rect x="574.08" y="333.12" width="7.32" height="7.32" fill="#ffc381"/><rect x="603.34" y="333.12" width="7.32" height="7.32" fill="#ffc381"/><rect x="171.70" y="340.44" width="7.32" height="8.32" fill="#ffc381"/><rect x="193.65" y="340.44" width="7.32" height="8.32" fill="#ffc381"/><rect x="244.86" y="340.44" width="7.32" height="8.32" fill="#ff9f37"/><rect x="266.81" y="340.44" width="7.32" height="7.32" fill="#ffc381"/><rect x="281.44" y="340.44" width="8.32" height="7.32" fill="#ffc381"/><rect x="288.76" y="340.44" width="8.32" height="8.32" fill="#ff9f37"/><rect x="296.07" y="340.44" width="7.32" height="8.32" fill="#ff9f37"/><rect x="318.02" y="340.44" width="8.32" height="8.32" fill="#ff6f00"/><rect x="325.34" y="340.44" width="8.32" height="8.32" fill="#ff8808"/><rect x="332.65" y="340.44" width="8.32" height="8.32" fill="#ff9f37"/><rect x="339.97" y="340.44" width="8.32" height="8.32" fill="#ffc381"/><rect x="347.28" y="340.44" width="8.32" height="8.32" fill="#ff8808"/><rect x="354.60" y="340.44" width="8.32" height="8.32" fill="#ff6f00"/><rect x="361.92" y="340.44" width="8.32" height="8.32" fill="#f25900"/><rect x="369.23" y="340.44" width="8.32" height="8.32" fill="#ff8808"/><rect x="376.55" y="340.44" width="8.32" height="8.32" fill="#ff6f00"/><rect x="383.86" y="340.44" width="8.32" height="8.32" fill="#ff8808"/><rect x="391.18" y="340.44" width="8.32" height="8.32" fill="#ff6f00"/><rect x="398.50" y="340.44" width="8.32" height="8.32" fill="#ffc381"/><rect x="405.81" y="340.44" width="8.32" height="7.32" fill="#ff6f00"/><rect x="413.13" y="340.44" width="8.32" height="8.32" fill="#ff9f37"/><rect x="420.44" y="340.44" width="8.32" height="8.32" fill="#ffc381"/><rect x="427.76" y="340.44" width="8.32" height="8.32" fill="#ff8808"/><rect x="435.08" y="340.44" width="8.32" height="8.32" fill="#ffc381"/><rect x="442.39" y="340.44" width="8.32" height="8.32" fill="#ffc381"/><rect x="449.71" y="340.44" width="8.32" height="7.32" fill="#ffc381"/><rect x="457.02" y="340.44" width="8.32" height="8.32" fill="#ffc381"/><rect x="464.34" y="340.44" width="7.32" height="8.32" fill="#ff9f37"/><rect x="493.60" y="340.44" width="7.32" height="8.32" fill="#ffc381"/><rect x="508.24" y="340.44" width="7.32" height="7.32" fill="#ffc381"/><rect x="171.70" y="347.76" width="7.32" height="7.32" fill="#ffc381"/><rect x="193.65" y="347.76" width="7.32" height="8.32" fill="#ffc381"/><rect x="244.86" y="347.76" width="7.32" height="8.32" fill="#ffc381"/><rect x="259.49" y="347.76" width="7.32" height="8.32" fill="#ffc381"/><rect x="288.76" y="347.76" width="8.32" height="8.32" fill="#ffc381"/><rect x="296.07" y="347.76" width="8.32" height="7.32" fill="#ff8808"/><rect x="303.39" y="347.76" width="7.32" height="7.32" fill="#ff9f37"/><rect x="318.02" y="347.76" width="8.32" height="7.32" fill="#ffc381"/><rect x="325.34" y="347.76" width="8.32" height="8.32" fill="#ff8808"/><rect x="332.65" y="347.76" width="8.32" height="8.32" fill="#ffc381"/><rect x="339.97" y="347.76" width="8.32" height="8.32" fill="#ffc381"/><rect x="347.28" y="347.76" width="8.32" height="7.32" fill="#ffc381"/><rect x="354.60" y="347.76" width="8.32" height="8.32" fill="#ff6f00"/><rect x="361.92" y="347.76" width="8.32" height="8.32" fill="#ffc381"/><rect x="369.23" y="347.76" width="8.32" height="8.32" fill="#ff8808"/><rect x="376.55" y="347.76" width="8.32" height="8.32" fill="#ff6f00"/><rect x="383.86" y="347.76" width="8.32" height="8.32" fill="#ff8808"/><rect x="391.18" y="347.76" width="8.32" height="7.32" fill="#ff6f00"/><rect x="398.50" y="347.76" width="7.32" height="8.32" fill="#ffc381"/><rect x="413.13" y="347.76" width="8.32" height="8.32" fill="#ff9f37"/><rect x="420.44" y="347.76" width="8.32" height="8.32" fill="#ff9f37"/><rect x="427.76" y="347.76" width="8.32" height="8.32" fill="#ffc381"/><rect x="435.08" y="347.76" width="8.32" height="7.32" fill="#ffc381"/><rect x="442.39" y="347.76" width="7.32" height="8.32" fill="#ffc381"/><rect x="457.02" y="347.76" width="8.32" height="8.32" fill="#ffc381"/><rect x="464.34" y="347.76" width="7.32" height="8.32" fill="#ffc381"/><rect x="478.97" y="347.76" width="8.32" height="7.32" fill="#ffc381"/><rect x="486.29" y="347.76" width="8.32" height="8.32" fill="#ff9f37"/><rect x="493.60" y="347.76" width="7.32" height="7.32" fill="#ffc381"/><rect x="530.18" y="347.76" width="8.32" height="7.32" fill="#ff8808"/><rect x="537.50" y="347.76" width="7.32" height="8.32" fill="#ffc381"/><rect x="603.34" y="347.76" width="7.32" height="7.32" fill="#ffc381"/><rect x="179.02" y="355.07" width="7.32" height="8.32" fill="#ffc381"/><rect x="193.65" y="355.07" width="8.32" height="7.32" fill="#ffc381"/><rect x="200.96" y="355.07" width="8.32" height="7.32" fill="#ffc381"/><rect x="208.28" y="355.07" width="7.32" height="7.32" fill="#ffc381"/><rect x="244.86" y="355.07" width="7.32" height="7.32" fill="#ffc381"/><rect x="259.49" y="355.07" width="8.32" height="7.32" fill="#ffc381"/><rect x="266.81" y="355.07" width="7.32" height="7.32" fill="#ffc381"/><rect x="288.76" y="355.07" width="7.32" height="8.32" fill="#ffc381"/><rect x="325.34" y="355.07" width="8.32" height="7.32" fill="#ff8808"/><rect x="332.65" y="355.07" width="8.32" height="7.32" fill="#ffc381"/><rect x="339.97" y="355.07" width="7.32" height="7.32" fill="#ff9f37"/><rect x="354.60" y="355.07" width="8.32" height="8.32" fill="#ffc381"/><rect x="361.92" y="355.07" width="8.32" height="8.32" fill="#ff9f37"/><rect x="369.23" y="355.07" width="8.32" height="8.32" fill="#ffc381"/><rect x="376.55" y="355.07" width="8.32" height="7.32" fill="#ff9f37"/><rect x="383.86" y="355.07" width="7.32" height="8.32" fill="#ff6f00"/><rect x="398.50" y="355.07" width="8.32" height="8.32" fill="#ffc381"/><rect x="405.81" y="355.07" width="8.32" height="8.32" fill="#ffc381"/><rect x="413.13" y="355.07" width="8.32" height="8.32" fill="#ff8808"/><rect x="420.44" y="355.07" width="8.32" height="8.32" fill="#ff9f37"/><rect x="427.76" y="355.07" width="7.32" height="8.32" fill="#ff9f37"/><rect x="442.39" y="355.07" width="7.32" height="8.32" fill="#ff9f37"/><rect x="457.02" y="355.07" width="8.32" height="8.32" fill="#ffc381"/><rect x="464.34" y="355.07" width="7.32" height="7.32" fill="#ff9f37"/><rect x="486.29" y="355.07" width="7.32" height="8.32" fill="#ffc381"/><rect x="508.24" y="355.07" width="7.32" height="7.32" fill="#ff9f37"/><rect x="537.50" y="355.07" width="7.32" height="7.32" fill="#ff9f37"/><rect x="581.40" y="355.07" width="7.32" height="7.32" fill="#ffc381"/><rect x="179.02" y="362.39" width="7.32" height="8.32" fill="#ffc381"/><rect x="237.54" y="362.39" width="7.32" height="7.32" fill="#ffc381"/><rect x="274.12" y="362.39" width="7.32" height="8.32" fill="#ffc381"/><rect x="288.76" y="362.39" width="7.32" height="8.32" fill="#ffc381"/><rect x="347.28" y="362.39" width="8.32" height="8.32" fill="#ff9f37"/><rect x="354.60" y="362.39" width="8.32" height="8.32" fill="#ffc381"/><rect x="361.92" y="362.39" width="8.32" height="8.32" fill="#ffc381"/><rect x="369.23" y="362.39" width="7.32" height="8.32" fill="#ff9f37"/><rect x="383.86" y="362.39" width="7.32" height="7.32" fill="#ffc381"/><rect x="398.50" y="362.39" width="8.32" height="7.32" fill="#ffc381"/><rect x="405.81" y="362.39" width="8.32" height="8.32" fill="#ff9f37"/><rect x="413.13" y="362.39" width="8.32" height="8.32" fill="#ffc381"/><rect x="420.44" y="362.39" width="8.32" height="8.32" fill="#ff9f37"/><rect x="427.76" y="362.39" width="8.32" height="7.32" fill="#ff9f37"/><rect x="435.08" y="362.39" width="8.32" height="8.32" fill="#ff9f37"/><rect x="442.39" y="362.39" width="8.32" height="8.32" fill="#ffc381"/><rect x="449.71" y="362.39" width="8.32" height="7.32" fill="#ffc381"/><rect x="457.02" y="362.39" width="7.32" height="8.32" fill="#ffc381"/><rect x="471.66" y="362.39" width="7.32" height="7.32" fill="#ff9f37"/><rect x="486.29" y="362.39" width="7.32" height="7.32" fill="#ff9f37"/><rect x="588.71" y="362.39" width="7.32" height="7.32" fill="#ffc381"/><rect x="179.02" y="369.70" width="7.32" height="7.32" fill="#ffc381"/><rect x="215.60" y="369.70" width="7.32" height="7.32" fill="#ffc381"/><rect x="230.23" y="369.70" width="7.32" height="7.32" fill="#ffc381"/><rect x="244.86" y="369.70" width="7.32" height="7.32" fill="#ffc381"/><rect x="274.12" y="369.70" width="7.32" height="8.32" fill="#ffc381"/><rect x="288.76" y="369.70" width="7.32" height="8.32" fill="#ffc381"/><rect x="325.34" y="369.70" width="7.32" height="8.32" fill="#ff9f37"/><rect x="347.28" y="369.70" width="8.32" height="7.32" fill="#ff8808"/><rect x="354.60" y="369.70" width="8.32" height="8.32" fill="#ff9f37"/><rect x="361.92" y="369.70" width="8.32" height="8.32" fill="#ffc381"/><rect x="369.23" y="369.70" width="7.32" height="8.32" fill="#ffc381"/><rect x="405.81" y="369.70" width="8.32" height="8.32" fill="#ffc381"/><rect x="413.13" y="369.70" width="8.32" height="7.32" fill="#ffc381"/><rect x="420.44" y="369.70" width="7.32" height="7.32" fill="#ffc381"/><rect x="435.08" y="369.70" width="8.32" height="7.32" fill="#ffc381"/><rect x="442.39" y="369.70" width="7.32" height="8.32" fill="#ff9f37"/><rect x="457.02" y="369.70" width="8.32" height="7.32" fill="#ffc381"/><rect x="464.34" y="369.70" width="7.32" height="7.32" fill="#ffc381"/><rect x="500.92" y="369.70" width="7.32" height="7.32" fill="#ffc381"/><rect x="200.96" y="377.02" width="7.32" height="7.32" fill="#ff9f37"/><rect x="252.18" y="377.02" width="7.32" height="7.32" fill="#ffc381"/><rect x="274.12" y="377.02" width="7.32" height="7.32" fill="#ffc381"/><rect x="288.76" y="377.02" width="7.32" height="7.32" fill="#ff9f37"/><rect x="310.70" y="377.02" width="8.32" height="7.32" fill="#ff9f37"/><rect x="318.02" y="377.02" width="8.32" height="8.32" fill="#ff9f37"/><rect x="325.34" y="377.02" width="8.32" height="7.32" fill="#ffc381"/><rect x="332.65" y="377.02" width="8.32" height="7.32" fill="#ff9f37"/><rect x="339.97" y="377.02" width="7.32" height="8.32" fill="#ffc381"/><rect x="354.60" y="377.02" width="8.32" height="8.32" fill="#ffc381"/><rect x="361.92" y="377.02" width="8.32" height="7.32" fill="#ffc381"/><rect x="369.23" y="377.02" width="7.32" height="7.32" fill="#ffc381"/><rect x="391.18" y="377.02" width="7.32" height="8.32" fill="#ffc381"/><rect x="405.81" y="377.02" width="7.32" height="8.32" fill="#ffc381"/><rect x="427.76" y="377.02" width="7.32" height="7.32" fill="#ffc381"/><rect x="442.39" y="377.02" width="7.32" height="8.32" fill="#ffc381"/><rect x="478.97" y="377.02" width="7.32" height="7.32" fill="#ffc381"/><rect x="508.24" y="377.02" width="7.32" height="7.32" fill="#ff9f37"/><rect x="193.65" y="384.34" width="7.32" height="7.32" fill="#ffc381"/><rect x="259.49" y="384.34" width="7.32" height="7.32" fill="#ffc381"/><rect x="296.07" y="384.34" width="7.32" height="7.32" fill="#ffc381"/><rect x="318.02" y="384.34" width="7.32" height="7.32" fill="#ffc381"/><rect x="339.97" y="384.34" width="7.32" height="8.32" fill="#ffc381"/><rect x="354.60" y="384.34" width="7.32" height="7.32" fill="#ffc381"/><rect x="376.55" y="384.34" width="7.32" height="8.32" fill="#ffc381"/><rect x="391.18" y="384.34" width="7.32" height="7.32" fill="#ffc381"/><rect x="405.81" y="384.34" width="8.32" height="7.32" fill="#ffc381"/><rect x="413.13" y="384.34" width="7.32" height="8.32" fill="#ffc381"/><rect x="435.08" y="384.34" width="8.32" height="8.32" fill="#ffc381"/><rect x="442.39" y="384.34" width="8.32" height="7.32" fill="#ffc381"/><rect x="449.71" y="384.34" width="7.32" height="7.32" fill="#ffc381"/><rect x="464.34" y="384.34" width="7.32" height="7.32" fill="#ffc381"/><rect x="493.60" y="384.34" width="7.32" height="7.32" fill="#ffc381"/><rect x="179.02" y="391.65" width="7.32" height="7.32" fill="#ffc381"/><rect x="244.86" y="391.65" width="8.32" height="8.32" fill="#ffc381"/><rect x="252.18" y="391.65" width="7.32" height="7.32" fill="#ffc381"/><rect x="266.81" y="391.65" width="8.32" height="7.32" fill="#ffc381"/><rect x="274.12" y="391.65" width="7.32" height="7.32" fill="#ffc381"/><rect x="339.97" y="391.65" width="8.32" height="8.32" fill="#ff9f37"/><rect x="347.28" y="391.65" width="7.32" height="7.32" fill="#ffc381"/><rect x="361.92" y="391.65" width="7.32" height="8.32" fill="#ffc381"/><rect x="376.55" y="391.65" width="8.32" height="7.32" fill="#ffc381"/><rect x="383.86" y="391.65" width="7.32" height="8.32" fill="#ffc381"/><rect x="413.13" y="391.65" width="8.32" height="7.32" fill="#ffc381"/><rect x="420.44" y="391.65" width="8.32" height="7.32" fill="#ffc381"/><rect x="427.76" y="391.65" width="8.32" height="8.32" fill="#ff9f37"/><rect x="435.08" y="391.65" width="7.32" height="7.32" fill="#ffc381"/><rect x="486.29" y="391.65" width="7.32" height="8.32" fill="#ffc381"/><rect x="500.92" y="391.65" width="8.32" height="7.32" fill="#ffc381"/><rect x="508.24" y="391.65" width="7.32" height="8.32" fill="#ffc381"/><rect x="537.50" y="391.65" width="7.32" height="7.32" fill="#ff9f37"/><rect x="596.03" y="391.65" width="7.32" height="7.32" fill="#ff9f37"/><rect x="244.86" y="398.97" width="7.32" height="7.32" fill="#f25900"/><rect x="296.07" y="398.97" width="7.32" height="7.32" fill="#ffc381"/><rect x="310.70" y="398.97" width="8.32" height="7.32" fill="#ffc381"/><rect x="318.02" y="398.97" width="7.32" height="7.32" fill="#ff9f37"/><rect x="332.65" y="398.97" width="8.32" height="7.32" fill="#ffc381"/><rect x="339.97" y="398.97" width="7.32" height="7.32" fill="#ff9f37"/><rect x="354.60" y="398.97" width="8.32" height="7.32" fill="#ffc381"/><rect x="361.92" y="398.97" width="7.32" height="7.32" fill="#ffc381"/><rect x="383.86" y="398.97" width="7.32" height="8.32" fill="#ffc381"/><rect x="398.50" y="398.97" width="7.32" height="8.32" fill="#ffc381"/><rect x="427.76" y="398.97" width="7.32" height="7.32" fill="#ff8808"/><rect x="442.39" y="398.97" width="7.32" height="8.32" fill="#ffc381"/><rect x="471.66" y="398.97" width="7.32" height="7.32" fill="#ffc381"/><rect x="486.29" y="398.97" width="7.32" height="7.32" fill="#ffc381"/><rect x="508.24" y="398.97" width="7.32" height="7.32" fill="#ffc381"/><rect x="559.45" y="398.97" width="7.32" height="7.32" fill="#ffc381"/><rect x="230.23" y="406.28" width="7.32" height="7.32" fill="#ffc381"/><rect x="266.81" y="406.28" width="8.32" height="7.32" fill="#ffc381"/><rect x="274.12" y="406.28" width="7.32" height="8.32" fill="#ffc381"/><rect x="288.76" y="406.28" width="7.32" height="7.32" fill="#ffc381"/><rect x="325.34" y="406.28" width="7.32" height="7.32" fill="#ff9f37"/><rect x="369.23" y="406.28" width="7.32" height="7.32" fill="#ffc381"/><rect x="383.86" y="406.28" width="8.32" height="7.32" fill="#ffc381"/><rect x="391.18" y="406.28" width="8.32" height="7.32" fill="#ff9f37"/><rect x="398.50" y="406.28" width="7.32" height="7.32" fill="#ffc381"/><rect x="442.39" y="406.28" width="7.32" height="7.32" fill="#ffc381"/><rect x="464.34" y="406.28" width="7.32" height="7.32" fill="#ffc381"/><rect x="493.60" y="406.28" width="7.32" height="7.32" fill="#ffc381"/><rect x="522.87" y="406.28" width="7.32" height="7.32" fill="#ffc381"/><rect x="537.50" y="406.28" width="7.32" height="8.32" fill="#ffc381"/><rect x="208.28" y="413.60" width="7.32" height="7.32" fill="#ffc381"/><rect x="244.86" y="413.60" width="8.32" height="8.32" fill="#ffc381"/><rect x="252.18" y="413.60" width="7.32" height="7.32" fill="#ffc381"/><rect x="274.12" y="413.60" width="7.32" height="7.32" fill="#ffc381"/><rect x="296.07" y="413.60" width="7.32" height="8.32" fill="#ffc381"/><rect x="318.02" y="413.60" width="7.32" height="8.32" fill="#ffc381"/><rect x="339.97" y="413.60" width="7.32" height="7.32" fill="#ffc381"/><rect x="361.92" y="413.60" width="7.32" height="7.32" fill="#ffc381"/><rect x="405.81" y="413.60" width="7.32" height="8.32" fill="#ffc381"/><rect x="435.08" y="413.60" width="7.32" height="7.32" fill="#ffc381"/><rect x="449.71" y="413.60" width="7.32" height="7.32" fill="#ffc381"/><rect x="537.50" y="413.60" width="7.32" height="8.32" fill="#ffc381"/><rect x="559.45" y="413.60" width="7.32" height="7.32" fill="#ffc381"/><rect x="244.86" y="420.92" width="7.32" height="8.32" fill="#ffc381"/><rect x="296.07" y="420.92" width="7.32" height="7.32" fill="#ffc381"/><rect x="318.02" y="420.92" width="7.32" height="7.32" fill="#ff9f37"/><rect x="347.28" y="420.92" width="8.32" height="7.32" fill="#ffc381"/><rect x="354.60" y="420.92" width="7.32" height="7.32" fill="#ffc381"/><rect x="369.23" y="420.92" width="7.32" height="8.32" fill="#ffc381"/><rect x="405.81" y="420.92" width="7.32" height="8.32" fill="#ffc381"/><rect x="530.18" y="420.92" width="8.32" height="7.32" fill="#ffc381"/><rect x="537.50" y="420.92" width="7.32" height="7.32" fill="#ff9f37"/><rect x="603.34" y="420.92" width="7.32" height="7.32" fill="#ffc381"/><rect x="193.65" y="428.23" width="7.32" height="7.32" fill="#ffc381"/><rect x="244.86" y="428.23" width="7.32" height="7.32" fill="#ffc381"/><rect x="325.34" y="428.23" width="7.32" height="8.32" fill="#ffc381"/><rect x="339.97" y="428.23" width="7.32" height="7.32" fill="#ffc381"/><rect x="361.92" y="428.23" width="8.32" height="7.32" fill="#ffc381"/><rect x="369.23" y="428.23" width="7.32" height="7.32" fill="#ffc381"/><rect x="405.81" y="428.23" width="7.32" height="7.32" fill="#ff9f37"/><rect x="486.29" y="428.23" width="7.32" height="7.32" fill="#ff9f37"/><rect x="574.08" y="428.23" width="8.32" height="7.32" fill="#ffc381"/><rect x="581.40" y="428.23" width="7.32" height="7.32" fill="#ffc381"/><rect x="596.03" y="428.23" width="7.32" height="7.32" fill="#ffc381"/><rect x="237.54" y="435.55" width="7.32" height="7.32" fill="#ffc381"/><rect x="325.34" y="435.55" width="7.32" height="7.32" fill="#ffc381"/><rect x="391.18" y="435.55" width="7.32" height="7.32" fill="#ffc381"/><rect x="435.08" y="435.55" width="8.32" height="7.32" fill="#ffc381"/><rect x="442.39" y="435.55" width="7.32" height="7.32" fill="#ffc381"/><rect x="588.71" y="435.55" width="7.32" height="7.32" fill="#ffc381"/><rect x="215.60" y="442.86" width="7.32" height="7.32" fill="#ffc381"/><rect x="347.28" y="442.86" width="7.32" height="7.32" fill="#ff9f37"/><rect x="361.92" y="442.86" width="7.32" height="7.32" fill="#ffc381"/><rect x="427.76" y="442.86" width="7.32" height="7.32" fill="#ffc381"/><rect x="478.97" y="442.86" width="7.32" height="7.32" fill="#ffc381"/><rect x="552.13" y="442.86" width="7.32" height="7.32" fill="#ffc381"/><rect x="252.18" y="450.18" width="7.32" height="7.32" fill="#ffc381"/><rect x="332.65" y="450.18" width="7.32" height="7.32" fill="#ffc381"/><rect x="574.08" y="450.18" width="7.32" height="7.32" fill="#ffc381"/><rect x="193.65" y="457.50" width="7.32" height="7.32" fill="#ffc381"/><rect x="244.86" y="457.50" width="7.32" height="7.32" fill="#ff9f37"/><rect x="303.39" y="457.50" width="8.32" height="7.32" fill="#ffc381"/><rect x="310.70" y="457.50" width="7.32" height="7.32" fill="#ffc381"/><rect x="413.13" y="457.50" width="7.32" height="7.32" fill="#ffc381"/><rect x="544.82" y="457.50" width="7.32" height="7.32" fill="#ffc381"/><rect x="208.28" y="464.81" width="7.32" height="7.32" fill="#ffc381"/><rect x="222.91" y="464.81" width="7.32" height="7.32" fill="#ffc381"/><rect x="296.07" y="464.81" width="7.32" height="7.32" fill="#ffc381"/><rect x="354.60" y="464.81" width="7.32" height="7.32" fill="#ffc381"/><rect x="420.44" y="464.81" width="7.32" height="7.32" fill="#ffc381"/><rect x="508.24" y="464.81" width="7.32" height="7.32" fill="#ffc381"/><rect x="588.71" y="464.81" width="7.32" height="8.32" fill="#ffc381"/><rect x="603.34" y="464.81" width="7.32" height="7.32" fill="#ffc381"/><rect x="486.29" y="472.13" width="7.32" height="7.32" fill="#ffc381"/><rect x="588.71" y="472.13" width="7.32" height="7.32" fill="#ffc381"/><rect x="427.76" y="479.44" width="7.32" height="8.32" fill="#ffc381"/><rect x="193.65" y="486.76" width="7.32" height="7.32" fill="#ffc381"/><rect x="274.12" y="486.76" width="7.32" height="7.32" fill="#ffc381"/><rect x="369.23" y="486.76" width="7.32" height="7.32" fill="#ffc381"/><rect x="383.86" y="486.76" width="7.32" height="7.32" fill="#ffc381"/><rect x="398.50" y="486.76" width="8.32" height="7.32" fill="#ffc381"/><rect x="405.81" y="486.76" width="7.32" height="7.32" fill="#ffc381"/><rect x="427.76" y="486.76" width="8.32" height="7.32" fill="#ffc381"/><rect x="435.08" y="486.76" width="7.32" height="7.32" fill="#ffc381"/><rect x="515.55" y="486.76" width="8.32" height="7.32" fill="#ffc381"/><rect x="522.87" y="486.76" width="7.32" height="7.32" fill="#ffc381"/></g></g>
<path d="M420.30 271.0A25.1 25.1 0 1 1 370.10 271.0A25.1 25.1 0 1 1 420.30 271.0Z" fill="none" stroke="#3614cc" stroke-width="3.0"/>
<path d="M448.60 271.0A53.5 53.5 0 1 1 341.60 271.0A53.5 53.5 0 1 1 448.60 271.0Z" fill="none" stroke="#3614cc" stroke-width="3.0" stroke-dasharray="16.4 9.1" stroke-dashoffset="12.5"/>
<path d="M471.30 271.0A76.2 76.2 0 1 1 318.90 271.0A76.2 76.2 0 1 1 471.30 271.0Z" fill="none" stroke="#3614cc" stroke-width="3.0" stroke-dasharray="8 8.88" stroke-dashoffset="3.48"/>
<path d="M551.20 270.85A156.2 156.2 0 1 1 238.80 270.85A156.2 156.2 0 1 1 551.20 270.85Z" fill="none" stroke="#2c14a8" stroke-width="2.7" stroke-dasharray="2.3 3.65" stroke-dashoffset="1.95"/>
<rect x="172.0" y="48.0" width="446.20000000000005" height="446.0" fill="none" stroke="#222" stroke-width="1.5"/>
<path d="M172.00 494.0v-8.2M172.00 48.0v8.2M172.0 494.00h8.2M618.2 494.00h-8.2M183.16 494.0v-3.8M183.16 48.0v3.8M172.0 482.85h3.8M618.2 482.85h-3.8M194.31 494.0v-3.8M194.31 48.0v3.8M172.0 471.70h3.8M618.2 471.70h-3.8M205.47 494.0v-3.8M205.47 48.0v3.8M172.0 460.55h3.8M618.2 460.55h-3.8M216.62 494.0v-3.8M216.62 48.0v3.8M172.0 449.40h3.8M618.2 449.40h-3.8M227.78 494.0v-3.8M227.78 48.0v3.8M172.0 438.25h3.8M618.2 438.25h-3.8M238.93 494.0v-3.8M238.93 48.0v3.8M172.0 427.10h3.8M618.2 427.10h-3.8M250.09 494.0v-3.8M250.09 48.0v3.8M172.0 415.95h3.8M618.2 415.95h-3.8M261.24 494.0v-3.8M261.24 48.0v3.8M172.0 404.80h3.8M618.2 404.80h-3.8M272.39 494.0v-3.8M272.39 48.0v3.8M172.0 393.65h3.8M618.2 393.65h-3.8M283.55 494.0v-8.2M283.55 48.0v8.2M172.0 382.50h8.2M618.2 382.50h-8.2M294.71 494.0v-3.8M294.71 48.0v3.8M172.0 371.35h3.8M618.2 371.35h-3.8M305.86 494.0v-3.8M305.86 48.0v3.8M172.0 360.20h3.8M618.2 360.20h-3.8M317.01 494.0v-3.8M317.01 48.0v3.8M172.0 349.05h3.8M618.2 349.05h-3.8M328.17 494.0v-3.8M328.17 48.0v3.8M172.0 337.90h3.8M618.2 337.90h-3.8M339.33 494.0v-3.8M339.33 48.0v3.8M172.0 326.75h3.8M618.2 326.75h-3.8M350.48 494.0v-3.8M350.48 48.0v3.8M172.0 315.60h3.8M618.2 315.60h-3.8M361.63 494.0v-3.8M361.63 48.0v3.8M172.0 304.45h3.8M618.2 304.45h-3.8M372.79 494.0v-3.8M372.79 48.0v3.8M172.0 293.30h3.8M618.2 293.30h-3.8M383.95 494.0v-3.8M383.95 48.0v3.8M172.0 282.15h3.8M618.2 282.15h-3.8M395.10 494.0v-8.2M395.10 48.0v8.2M172.0 271.00h8.2M618.2 271.00h-8.2M406.25 494.0v-3.8M406.25 48.0v3.8M172.0 259.85h3.8M618.2 259.85h-3.8M417.41 494.0v-3.8M417.41 48.0v3.8M172.0 248.70h3.8M618.2 248.70h-3.8M428.57 494.0v-3.8M428.57 48.0v3.8M172.0 237.55h3.8M618.2 237.55h-3.8M439.72 494.0v-3.8M439.72 48.0v3.8M172.0 226.40h3.8M618.2 226.40h-3.8M450.88 494.0v-3.8M450.88 48.0v3.8M172.0 215.25h3.8M618.2 215.25h-3.8M462.03 494.0v-3.8M462.03 48.0v3.8M172.0 204.10h3.8M618.2 204.10h-3.8M473.19 494.0v-3.8M473.19 48.0v3.8M172.0 192.95h3.8M618.2 192.95h-3.8M484.34 494.0v-3.8M484.34 48.0v3.8M172.0 181.80h3.8M618.2 181.80h-3.8M495.50 494.0v-3.8M495.50 48.0v3.8M172.0 170.65h3.8M618.2 170.65h-3.8M506.65 494.0v-8.2M506.65 48.0v8.2M172.0 159.50h8.2M618.2 159.50h-8.2M517.81 494.0v-3.8M517.81 48.0v3.8M172.0 148.35h3.8M618.2 148.35h-3.8M528.96 494.0v-3.8M528.96 48.0v3.8M172.0 137.20h3.8M618.2 137.20h-3.8M540.12 494.0v-3.8M540.12 48.0v3.8M172.0 126.05h3.8M618.2 126.05h-3.8M551.27 494.0v-3.8M551.27 48.0v3.8M172.0 114.90h3.8M618.2 114.90h-3.8M562.43 494.0v-3.8M562.43 48.0v3.8M172.0 103.75h3.8M618.2 103.75h-3.8M573.58 494.0v-3.8M573.58 48.0v3.8M172.0 92.60h3.8M618.2 92.60h-3.8M584.74 494.0v-3.8M584.74 48.0v3.8M172.0 81.45h3.8M618.2 81.45h-3.8M595.89 494.0v-3.8M595.89 48.0v3.8M172.0 70.30h3.8M618.2 70.30h-3.8M607.05 494.0v-3.8M607.05 48.0v3.8M172.0 59.15h3.8M618.2 59.15h-3.8M618.20 494.0v-8.2M618.20 48.0v8.2M172.0 48.00h8.2M618.2 48.00h-8.2" stroke="#222" stroke-width="1.5" fill="none"/>
<rect x="625.0" y="48.0" width="18.200000000000045" height="446.0" fill="url(#cb)" stroke="#222" stroke-width="1.5"/>
<text transform="translate(172.30,522.00) scale(0.9,1)" text-anchor="middle" font-size="21.6">-2</text>
<text transform="translate(283.85,522.00) scale(0.9,1)" text-anchor="middle" font-size="21.6">-1</text>
<text transform="translate(395.40,522.00) scale(0.9,1)" text-anchor="middle" font-size="21.6">0</text>
<text transform="translate(506.95,522.00) scale(0.9,1)" text-anchor="middle" font-size="21.6">1</text>
<text transform="translate(618.50,522.00) scale(0.9,1)" text-anchor="middle" font-size="21.6">2</text>
<text transform="translate(167.00,61.00) scale(0.9,1)" text-anchor="end" font-size="21.6">2</text>
<text transform="translate(167.00,167.30) scale(0.9,1)" text-anchor="end" font-size="21.6">1</text>
<text transform="translate(167.00,278.80) scale(0.9,1)" text-anchor="end" font-size="21.6">0</text>
<text transform="translate(167.00,390.30) scale(0.9,1)" text-anchor="end" font-size="21.6">-1</text>
<text transform="translate(167.00,494.00) scale(0.9,1)" text-anchor="end" font-size="21.6">-2</text>
<text transform="translate(651.00,60.80) scale(0.87,1)" text-anchor="start" font-size="21.6">10<tspan dx="-1.6" dy="-10.5" font-size="13.6">-1</tspan></text>
<text transform="translate(651.00,166.80) scale(0.87,1)" text-anchor="start" font-size="21.6">10<tspan dx="-1.6" dy="-10.5" font-size="13.6">-2</tspan></text>
<text transform="translate(651.00,278.90) scale(0.87,1)" text-anchor="start" font-size="21.6">10<tspan dx="-1.6" dy="-10.5" font-size="13.6">-3</tspan></text>
<text transform="translate(651.00,389.60) scale(0.87,1)" text-anchor="start" font-size="21.6">10<tspan dx="-1.6" dy="-10.5" font-size="13.6">-4</tspan></text>
<text transform="translate(651.00,493.90) scale(0.87,1)" text-anchor="start" font-size="21.6">10<tspan dx="-1.6" dy="-10.5" font-size="13.6">-5</tspan></text>
<text transform="translate(396.00,546.50) scale(0.86,1)" text-anchor="middle" font-size="21.6">X Offset [Arcmin]</text>
<text transform="translate(131.70,269.80) rotate(-90) scale(0.86,1)" text-anchor="middle" font-size="21.6">Y Offset [Arcmin]</text>
<text transform="translate(700.00,270.50) rotate(-90) scale(0.86,1)" text-anchor="middle" font-size="21.6">Density</text>
</svg>
</body></html>
